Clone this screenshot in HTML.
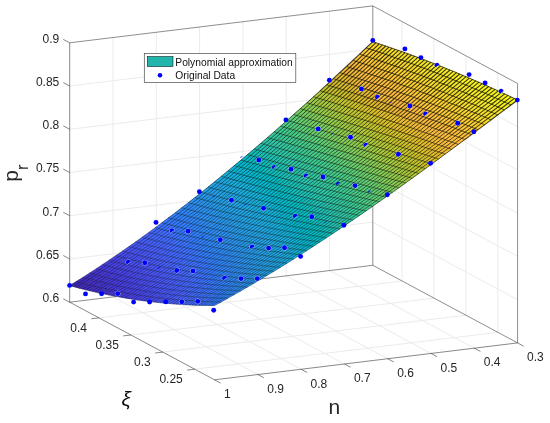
<!DOCTYPE html>
<html><head><meta charset="utf-8"><title>Polynomial approximation</title>
<style>
html,body{margin:0;padding:0;background:#fff;}
svg{display:block;}
text{font-family:"Liberation Sans",sans-serif;}
</style></head>
<body>
<svg width="550" height="423" viewBox="0 0 550 423">
<rect width="550" height="423" fill="#fff"/>
<path d="M257.8,374.5 L113,296.9 M113,296.9 L113,37.5 M301.1,369.3 L156.3,291.7 M156.3,291.7 L156.3,32.3 M344.4,364 L199.6,286.4 M199.6,286.4 L199.6,27 M387.7,358.7 L242.9,281.1 M242.9,281.1 L242.9,21.7 M431,353.4 L286.2,275.8 M286.2,275.8 L286.2,16.4 M474.3,348.2 L329.5,270.6 M329.5,270.6 L329.5,11.2 M98.9,317.9 L402,281 M402,281 L402,21.6 M130.8,335 L433.9,298.1 M433.9,298.1 L433.9,38.7 M162.8,352.1 L465.9,315.2 M465.9,315.2 L465.9,55.8 M194.7,369.2 L497.8,332.3 M497.8,332.3 L497.8,72.9 M69.7,259 L372.8,222.1 M372.8,222.1 L517.6,299.7 M69.7,215.7 L372.8,178.8 M372.8,178.8 L517.6,256.4 M69.7,172.5 L372.8,135.6 M372.8,135.6 L517.6,213.2 M69.7,129.3 L372.8,92.4 M372.8,92.4 L517.6,170 M69.7,86 L372.8,49.1 M372.8,49.1 L517.6,126.7" stroke="#ebebeb" stroke-width="1.0" fill="none"/>
<path d="M69.7,302.2 L372.8,265.3 M372.8,265.3 L517.6,342.9 M372.8,265.3 L372.8,5.9 M69.7,42.8 L372.8,5.9 M372.8,5.9 L517.6,83.5 M517.6,342.9 L517.6,83.5" stroke="#262626" stroke-width="1.0" stroke-opacity="0.52" fill="none"/>
<g stroke-width=".4" stroke-linejoin="round">
<path fill="#3f29b2" stroke="#3f29b2" d="M69.7,285.6 L76.3,281.5 85.9,284.1 79.4,288.2Z"/>
<path fill="#412cbb" stroke="#412cbb" d="M79.4,288.2 L85.9,284.1 95.6,286.5 89,290.6Z"/>
<path fill="#4230c4" stroke="#4230c4" d="M89,290.6 L95.6,286.5 105.2,288.7 98.7,292.8Z"/>
<path fill="#4433cd" stroke="#4433cd" d="M98.7,292.8 L105.2,288.7 114.9,290.7 108.3,294.8Z"/>
<path fill="#4537d6" stroke="#4537d6" d="M108.3,294.8 L114.9,290.7 124.6,292.6 118,296.7Z"/>
<path fill="#463cde" stroke="#463cde" d="M118,296.7 L124.6,292.6 134.2,294.3 127.6,298.4Z"/>
<path fill="#4742e6" stroke="#4742e6" d="M127.6,298.4 L134.2,294.3 143.9,295.8 137.3,299.9Z"/>
<path fill="#4747ec" stroke="#4747ec" d="M137.3,299.9 L143.9,295.8 153.5,297.2 146.9,301.2Z"/>
<path fill="#484ef1" stroke="#484ef1" d="M146.9,301.2 L153.5,297.2 163.2,298.4 156.6,302.3Z"/>
<path fill="#4854f5" stroke="#4854f5" d="M156.6,302.3 L163.2,298.4 172.8,299.4 166.2,303.3Z"/>
<path fill="#475bf9" stroke="#475bf9" d="M166.2,303.3 L172.8,299.4 182.5,300.3 175.9,304.1Z"/>
<path fill="#4562fc" stroke="#4562fc" d="M175.9,304.1 L182.5,300.3 192.1,300.9 185.5,304.7Z"/>
<path fill="#4269fe" stroke="#4269fe" d="M185.5,304.7 L192.1,300.9 201.8,301.4 195.2,305.2Z"/>
<path fill="#3c71ff" stroke="#3c71ff" d="M195.2,305.2 L201.8,301.4 211.4,301.8 204.8,305.4Z"/>
<path fill="#347afd" stroke="#347afd" d="M204.8,305.4 L211.4,301.8 221.1,301.9 214.5,305.5Z"/>
<path fill="#412dbd" stroke="#412dbd" d="M76.3,281.5 L82.9,277.4 92.5,279.9 85.9,284.1Z"/>
<path fill="#4330c5" stroke="#4330c5" d="M85.9,284.1 L92.5,279.9 102.2,282.3 95.6,286.5Z"/>
<path fill="#4434ce" stroke="#4434ce" d="M95.6,286.5 L102.2,282.3 111.8,284.5 105.2,288.7Z"/>
<path fill="#4537d6" stroke="#4537d6" d="M105.2,288.7 L111.8,284.5 121.5,286.6 114.9,290.7Z"/>
<path fill="#463cde" stroke="#463cde" d="M114.9,290.7 L121.5,286.6 131.1,288.5 124.6,292.6Z"/>
<path fill="#4741e5" stroke="#4741e5" d="M124.6,292.6 L131.1,288.5 140.8,290.2 134.2,294.3Z"/>
<path fill="#4747eb" stroke="#4747eb" d="M134.2,294.3 L140.8,290.2 150.5,291.8 143.9,295.8Z"/>
<path fill="#484df0" stroke="#484df0" d="M143.9,295.8 L150.5,291.8 160.1,293.2 153.5,297.2Z"/>
<path fill="#4853f4" stroke="#4853f4" d="M153.5,297.2 L160.1,293.2 169.8,294.4 163.2,298.4Z"/>
<path fill="#4759f8" stroke="#4759f8" d="M163.2,298.4 L169.8,294.4 179.4,295.5 172.8,299.4Z"/>
<path fill="#4660fb" stroke="#4660fb" d="M172.8,299.4 L179.4,295.5 189.1,296.3 182.5,300.3Z"/>
<path fill="#4367fd" stroke="#4367fd" d="M182.5,300.3 L189.1,296.3 198.7,297.1 192.1,300.9Z"/>
<path fill="#3f6eff" stroke="#3f6eff" d="M192.1,300.9 L198.7,297.1 208.4,297.6 201.8,301.4Z"/>
<path fill="#3776fe" stroke="#3776fe" d="M201.8,301.4 L208.4,297.6 218,298 211.4,301.8Z"/>
<path fill="#307ffb" stroke="#307ffb" d="M211.4,301.8 L218,298 227.7,298.3 221.1,301.9Z"/>
<path fill="#4331c7" stroke="#4331c7" d="M82.9,277.4 L89.5,273.2 99.1,275.7 92.5,279.9Z"/>
<path fill="#4434cf" stroke="#4434cf" d="M92.5,279.9 L99.1,275.7 108.8,278.1 102.2,282.3Z"/>
<path fill="#4538d7" stroke="#4538d7" d="M102.2,282.3 L108.8,278.1 118.4,280.3 111.8,284.5Z"/>
<path fill="#463cdf" stroke="#463cdf" d="M111.8,284.5 L118.4,280.3 128.1,282.4 121.5,286.6Z"/>
<path fill="#4741e5" stroke="#4741e5" d="M121.5,286.6 L128.1,282.4 137.7,284.3 131.1,288.5Z"/>
<path fill="#4746eb" stroke="#4746eb" d="M131.1,288.5 L137.7,284.3 147.4,286.1 140.8,290.2Z"/>
<path fill="#484cef" stroke="#484cef" d="M140.8,290.2 L147.4,286.1 157,287.6 150.5,291.8Z"/>
<path fill="#4852f4" stroke="#4852f4" d="M150.5,291.8 L157,287.6 166.7,289.1 160.1,293.2Z"/>
<path fill="#4758f8" stroke="#4758f8" d="M160.1,293.2 L166.7,289.1 176.3,290.3 169.8,294.4Z"/>
<path fill="#465efb" stroke="#465efb" d="M169.8,294.4 L176.3,290.3 186,291.4 179.4,295.5Z"/>
<path fill="#4465fd" stroke="#4465fd" d="M179.4,295.5 L186,291.4 195.7,292.4 189.1,296.3Z"/>
<path fill="#406cfe" stroke="#406cfe" d="M189.1,296.3 L195.7,292.4 205.3,293.2 198.7,297.1Z"/>
<path fill="#3a74fe" stroke="#3a74fe" d="M198.7,297.1 L205.3,293.2 215,293.8 208.4,297.6Z"/>
<path fill="#327cfc" stroke="#327cfc" d="M208.4,297.6 L215,293.8 224.6,294.3 218,298Z"/>
<path fill="#2e83f9" stroke="#2e83f9" d="M218,298 L224.6,294.3 234.3,294.6 227.7,298.3Z"/>
<path fill="#4435d1" stroke="#4435d1" d="M89.5,273.2 L96.1,268.9 105.7,271.4 99.1,275.7Z"/>
<path fill="#4539d9" stroke="#4539d9" d="M99.1,275.7 L105.7,271.4 115.4,273.8 108.8,278.1Z"/>
<path fill="#463ddf" stroke="#463ddf" d="M108.8,278.1 L115.4,273.8 125,276.1 118.4,280.3Z"/>
<path fill="#4741e5" stroke="#4741e5" d="M118.4,280.3 L125,276.1 134.7,278.1 128.1,282.4Z"/>
<path fill="#4746eb" stroke="#4746eb" d="M128.1,282.4 L134.7,278.1 144.3,280.1 137.7,284.3Z"/>
<path fill="#484cef" stroke="#484cef" d="M137.7,284.3 L144.3,280.1 154,281.8 147.4,286.1Z"/>
<path fill="#4851f3" stroke="#4851f3" d="M147.4,286.1 L154,281.8 163.6,283.4 157,287.6Z"/>
<path fill="#4757f7" stroke="#4757f7" d="M157,287.6 L163.6,283.4 173.3,284.9 166.7,289.1Z"/>
<path fill="#465dfa" stroke="#465dfa" d="M166.7,289.1 L173.3,284.9 182.9,286.2 176.3,290.3Z"/>
<path fill="#4563fd" stroke="#4563fd" d="M176.3,290.3 L182.9,286.2 192.6,287.4 186,291.4Z"/>
<path fill="#426afe" stroke="#426afe" d="M186,291.4 L192.6,287.4 202.2,288.4 195.7,292.4Z"/>
<path fill="#3c71ff" stroke="#3c71ff" d="M195.7,292.4 L202.2,288.4 211.9,289.2 205.3,293.2Z"/>
<path fill="#3579fd" stroke="#3579fd" d="M205.3,293.2 L211.9,289.2 221.5,289.9 215,293.8Z"/>
<path fill="#2f80fa" stroke="#2f80fa" d="M215,293.8 L221.5,289.9 231.2,290.4 224.6,294.3Z"/>
<path fill="#2d88f6" stroke="#2d88f6" d="M224.6,294.3 L231.2,290.4 240.9,290.8 234.3,294.6Z"/>
<path fill="#463adb" stroke="#463adb" d="M96.1,268.9 L102.6,264.6 112.3,267.1 105.7,271.4Z"/>
<path fill="#463ee1" stroke="#463ee1" d="M105.7,271.4 L112.3,267.1 122,269.5 115.4,273.8Z"/>
<path fill="#4742e6" stroke="#4742e6" d="M115.4,273.8 L122,269.5 131.6,271.7 125,276.1Z"/>
<path fill="#4747eb" stroke="#4747eb" d="M125,276.1 L131.6,271.7 141.3,273.8 134.7,278.1Z"/>
<path fill="#484cef" stroke="#484cef" d="M134.7,278.1 L141.3,273.8 150.9,275.7 144.3,280.1Z"/>
<path fill="#4851f3" stroke="#4851f3" d="M144.3,280.1 L150.9,275.7 160.6,277.5 154,281.8Z"/>
<path fill="#4757f7" stroke="#4757f7" d="M154,281.8 L160.6,277.5 170.2,279.2 163.6,283.4Z"/>
<path fill="#475cfa" stroke="#475cfa" d="M163.6,283.4 L170.2,279.2 179.9,280.7 173.3,284.9Z"/>
<path fill="#4562fc" stroke="#4562fc" d="M173.3,284.9 L179.9,280.7 189.5,282 182.9,286.2Z"/>
<path fill="#4369fe" stroke="#4369fe" d="M182.9,286.2 L189.5,282 199.2,283.2 192.6,287.4Z"/>
<path fill="#3e6fff" stroke="#3e6fff" d="M192.6,287.4 L199.2,283.2 208.8,284.3 202.2,288.4Z"/>
<path fill="#3777fe" stroke="#3777fe" d="M202.2,288.4 L208.8,284.3 218.5,285.2 211.9,289.2Z"/>
<path fill="#317efb" stroke="#317efb" d="M211.9,289.2 L218.5,285.2 228.1,286 221.5,289.9Z"/>
<path fill="#2e85f8" stroke="#2e85f8" d="M221.5,289.9 L228.1,286 237.8,286.6 231.2,290.4Z"/>
<path fill="#2d8cf3" stroke="#2d8cf3" d="M231.2,290.4 L237.8,286.6 247.4,287 240.9,290.8Z"/>
<path fill="#473fe2" stroke="#473fe2" d="M102.6,264.6 L109.2,260.2 118.9,262.7 112.3,267.1Z"/>
<path fill="#4743e7" stroke="#4743e7" d="M112.3,267.1 L118.9,262.7 128.5,265.1 122,269.5Z"/>
<path fill="#4848ec" stroke="#4848ec" d="M122,269.5 L128.5,265.1 138.2,267.3 131.6,271.7Z"/>
<path fill="#484df0" stroke="#484df0" d="M131.6,271.7 L138.2,267.3 147.8,269.4 141.3,273.8Z"/>
<path fill="#4852f4" stroke="#4852f4" d="M141.3,273.8 L147.8,269.4 157.5,271.4 150.9,275.7Z"/>
<path fill="#4757f7" stroke="#4757f7" d="M150.9,275.7 L157.5,271.4 167.2,273.2 160.6,277.5Z"/>
<path fill="#475cfa" stroke="#475cfa" d="M160.6,277.5 L167.2,273.2 176.8,274.9 170.2,279.2Z"/>
<path fill="#4562fc" stroke="#4562fc" d="M170.2,279.2 L176.8,274.9 186.5,276.4 179.9,280.7Z"/>
<path fill="#4368fe" stroke="#4368fe" d="M179.9,280.7 L186.5,276.4 196.1,277.8 189.5,282Z"/>
<path fill="#3f6eff" stroke="#3f6eff" d="M189.5,282 L196.1,277.8 205.8,279 199.2,283.2Z"/>
<path fill="#3875fe" stroke="#3875fe" d="M199.2,283.2 L205.8,279 215.4,280.2 208.8,284.3Z"/>
<path fill="#327cfc" stroke="#327cfc" d="M208.8,284.3 L215.4,280.2 225.1,281.1 218.5,285.2Z"/>
<path fill="#2e83f9" stroke="#2e83f9" d="M218.5,285.2 L225.1,281.1 234.7,281.9 228.1,286Z"/>
<path fill="#2d8af5" stroke="#2d8af5" d="M228.1,286 L234.7,281.9 244.4,282.6 237.8,286.6Z"/>
<path fill="#2b91ef" stroke="#2b91ef" d="M237.8,286.6 L244.4,282.6 254,283.2 247.4,287Z"/>
<path fill="#4745e9" stroke="#4745e9" d="M109.2,260.2 L115.8,255.7 125.5,258.2 118.9,262.7Z"/>
<path fill="#4849ed" stroke="#4849ed" d="M118.9,262.7 L125.5,258.2 135.1,260.6 128.5,265.1Z"/>
<path fill="#484ef1" stroke="#484ef1" d="M128.5,265.1 L135.1,260.6 144.8,262.9 138.2,267.3Z"/>
<path fill="#4852f4" stroke="#4852f4" d="M138.2,267.3 L144.8,262.9 154.4,265 147.8,269.4Z"/>
<path fill="#4757f7" stroke="#4757f7" d="M147.8,269.4 L154.4,265 164.1,267 157.5,271.4Z"/>
<path fill="#475cfa" stroke="#475cfa" d="M157.5,271.4 L164.1,267 173.7,268.8 167.2,273.2Z"/>
<path fill="#4562fc" stroke="#4562fc" d="M167.2,273.2 L173.7,268.8 183.4,270.5 176.8,274.9Z"/>
<path fill="#4368fd" stroke="#4368fd" d="M176.8,274.9 L183.4,270.5 193.1,272.1 186.5,276.4Z"/>
<path fill="#3f6efe" stroke="#3f6efe" d="M186.5,276.4 L193.1,272.1 202.7,273.5 196.1,277.8Z"/>
<path fill="#3974fe" stroke="#3974fe" d="M196.1,277.8 L202.7,273.5 212.4,274.8 205.8,279Z"/>
<path fill="#337bfc" stroke="#337bfc" d="M205.8,279 L212.4,274.8 222,276 215.4,280.2Z"/>
<path fill="#2f82fa" stroke="#2f82fa" d="M215.4,280.2 L222,276 231.7,277 225.1,281.1Z"/>
<path fill="#2d88f6" stroke="#2d88f6" d="M225.1,281.1 L231.7,277 241.3,277.9 234.7,281.9Z"/>
<path fill="#2c8ff1" stroke="#2c8ff1" d="M234.7,281.9 L241.3,277.9 251,278.6 244.4,282.6Z"/>
<path fill="#2895ec" stroke="#2895ec" d="M244.4,282.6 L251,278.6 260.6,279.3 254,283.2Z"/>
<path fill="#484bee" stroke="#484bee" d="M115.8,255.7 L122.4,251.2 132.1,253.7 125.5,258.2Z"/>
<path fill="#484ff2" stroke="#484ff2" d="M125.5,258.2 L132.1,253.7 141.7,256.1 135.1,260.6Z"/>
<path fill="#4853f5" stroke="#4853f5" d="M135.1,260.6 L141.7,256.1 151.4,258.3 144.8,262.9Z"/>
<path fill="#4758f8" stroke="#4758f8" d="M144.8,262.9 L151.4,258.3 161,260.5 154.4,265Z"/>
<path fill="#465dfa" stroke="#465dfa" d="M154.4,265 L161,260.5 170.7,262.5 164.1,267Z"/>
<path fill="#4562fc" stroke="#4562fc" d="M164.1,267 L170.7,262.5 180.3,264.3 173.7,268.8Z"/>
<path fill="#4368fd" stroke="#4368fd" d="M173.7,268.8 L180.3,264.3 190,266.1 183.4,270.5Z"/>
<path fill="#3f6dfe" stroke="#3f6dfe" d="M183.4,270.5 L190,266.1 199.6,267.7 193.1,272.1Z"/>
<path fill="#3a74fe" stroke="#3a74fe" d="M193.1,272.1 L199.6,267.7 209.3,269.2 202.7,273.5Z"/>
<path fill="#337afd" stroke="#337afd" d="M202.7,273.5 L209.3,269.2 218.9,270.5 212.4,274.8Z"/>
<path fill="#2f81fa" stroke="#2f81fa" d="M212.4,274.8 L218.9,270.5 228.6,271.7 222,276Z"/>
<path fill="#2e87f7" stroke="#2e87f7" d="M222,276 L228.6,271.7 238.3,272.8 231.7,277Z"/>
<path fill="#2d8df2" stroke="#2d8df2" d="M231.7,277 L238.3,272.8 247.9,273.8 241.3,277.9Z"/>
<path fill="#2a93ed" stroke="#2a93ed" d="M241.3,277.9 L247.9,273.8 257.6,274.6 251,278.6Z"/>
<path fill="#2699e9" stroke="#2699e9" d="M251,278.6 L257.6,274.6 267.2,275.3 260.6,279.3Z"/>
<path fill="#4851f3" stroke="#4851f3" d="M122.4,251.2 L129,246.6 138.7,249.1 132.1,253.7Z"/>
<path fill="#4755f6" stroke="#4755f6" d="M132.1,253.7 L138.7,249.1 148.3,251.5 141.7,256.1Z"/>
<path fill="#4759f8" stroke="#4759f8" d="M141.7,256.1 L148.3,251.5 158,253.8 151.4,258.3Z"/>
<path fill="#465efb" stroke="#465efb" d="M151.4,258.3 L158,253.8 167.6,255.9 161,260.5Z"/>
<path fill="#4563fc" stroke="#4563fc" d="M161,260.5 L167.6,255.9 177.3,257.9 170.7,262.5Z"/>
<path fill="#4368fe" stroke="#4368fe" d="M170.7,262.5 L177.3,257.9 186.9,259.8 180.3,264.3Z"/>
<path fill="#3f6efe" stroke="#3f6efe" d="M180.3,264.3 L186.9,259.8 196.6,261.6 190,266.1Z"/>
<path fill="#3a74fe" stroke="#3a74fe" d="M190,266.1 L196.6,261.6 206.2,263.2 199.6,267.7Z"/>
<path fill="#347afd" stroke="#347afd" d="M199.6,267.7 L206.2,263.2 215.9,264.8 209.3,269.2Z"/>
<path fill="#3080fa" stroke="#3080fa" d="M209.3,269.2 L215.9,264.8 225.5,266.2 218.9,270.5Z"/>
<path fill="#2e86f7" stroke="#2e86f7" d="M218.9,270.5 L225.5,266.2 235.2,267.4 228.6,271.7Z"/>
<path fill="#2d8cf3" stroke="#2d8cf3" d="M228.6,271.7 L235.2,267.4 244.8,268.6 238.3,272.8Z"/>
<path fill="#2b92ee" stroke="#2b92ee" d="M238.3,272.8 L244.8,268.6 254.5,269.6 247.9,273.8Z"/>
<path fill="#2798ea" stroke="#2798ea" d="M247.9,273.8 L254.5,269.6 264.1,270.5 257.6,274.6Z"/>
<path fill="#249ee6" stroke="#249ee6" d="M257.6,274.6 L264.1,270.5 273.8,271.3 267.2,275.3Z"/>
<path fill="#4756f7" stroke="#4756f7" d="M129,246.6 L135.6,242 145.2,244.5 138.7,249.1Z"/>
<path fill="#475bf9" stroke="#475bf9" d="M138.7,249.1 L145.2,244.5 154.9,246.9 148.3,251.5Z"/>
<path fill="#465ffb" stroke="#465ffb" d="M148.3,251.5 L154.9,246.9 164.6,249.1 158,253.8Z"/>
<path fill="#4564fd" stroke="#4564fd" d="M158,253.8 L164.6,249.1 174.2,251.3 167.6,255.9Z"/>
<path fill="#4269fe" stroke="#4269fe" d="M167.6,255.9 L174.2,251.3 183.9,253.3 177.3,257.9Z"/>
<path fill="#3f6eff" stroke="#3f6eff" d="M177.3,257.9 L183.9,253.3 193.5,255.2 186.9,259.8Z"/>
<path fill="#3974fe" stroke="#3974fe" d="M186.9,259.8 L193.5,255.2 203.2,257.1 196.6,261.6Z"/>
<path fill="#347afd" stroke="#347afd" d="M196.6,261.6 L203.2,257.1 212.8,258.7 206.2,263.2Z"/>
<path fill="#3080fa" stroke="#3080fa" d="M206.2,263.2 L212.8,258.7 222.5,260.3 215.9,264.8Z"/>
<path fill="#2e86f8" stroke="#2e86f8" d="M215.9,264.8 L222.5,260.3 232.1,261.8 225.5,266.2Z"/>
<path fill="#2d8bf3" stroke="#2d8bf3" d="M225.5,266.2 L232.1,261.8 241.8,263.1 235.2,267.4Z"/>
<path fill="#2b91ef" stroke="#2b91ef" d="M235.2,267.4 L241.8,263.1 251.4,264.3 244.8,268.6Z"/>
<path fill="#2797eb" stroke="#2797eb" d="M244.8,268.6 L251.4,264.3 261.1,265.4 254.5,269.6Z"/>
<path fill="#259ce7" stroke="#259ce7" d="M254.5,269.6 L261.1,265.4 270.7,266.4 264.1,270.5Z"/>
<path fill="#22a2e4" stroke="#22a2e4" d="M264.1,270.5 L270.7,266.4 280.4,267.3 273.8,271.3Z"/>
<path fill="#475dfa" stroke="#475dfa" d="M135.6,242 L142.2,237.2 151.8,239.8 145.2,244.5Z"/>
<path fill="#4561fc" stroke="#4561fc" d="M145.2,244.5 L151.8,239.8 161.5,242.2 154.9,246.9Z"/>
<path fill="#4465fd" stroke="#4465fd" d="M154.9,246.9 L161.5,242.2 171.1,244.4 164.6,249.1Z"/>
<path fill="#426afe" stroke="#426afe" d="M164.6,249.1 L171.1,244.4 180.8,246.6 174.2,251.3Z"/>
<path fill="#3e6fff" stroke="#3e6fff" d="M174.2,251.3 L180.8,246.6 190.4,248.7 183.9,253.3Z"/>
<path fill="#3975fe" stroke="#3975fe" d="M183.9,253.3 L190.4,248.7 200.1,250.6 193.5,255.2Z"/>
<path fill="#337bfd" stroke="#337bfd" d="M193.5,255.2 L200.1,250.6 209.8,252.5 203.2,257.1Z"/>
<path fill="#2f80fa" stroke="#2f80fa" d="M203.2,257.1 L209.8,252.5 219.4,254.2 212.8,258.7Z"/>
<path fill="#2e86f8" stroke="#2e86f8" d="M212.8,258.7 L219.4,254.2 229.1,255.8 222.5,260.3Z"/>
<path fill="#2d8bf4" stroke="#2d8bf4" d="M222.5,260.3 L229.1,255.8 238.7,257.3 232.1,261.8Z"/>
<path fill="#2b91ef" stroke="#2b91ef" d="M232.1,261.8 L238.7,257.3 248.4,258.7 241.8,263.1Z"/>
<path fill="#2896eb" stroke="#2896eb" d="M241.8,263.1 L248.4,258.7 258,260 251.4,264.3Z"/>
<path fill="#259be7" stroke="#259be7" d="M251.4,264.3 L258,260 267.7,261.2 261.1,265.4Z"/>
<path fill="#23a1e4" stroke="#23a1e4" d="M261.1,265.4 L267.7,261.2 277.3,262.2 270.7,266.4Z"/>
<path fill="#1fa6e1" stroke="#1fa6e1" d="M270.7,266.4 L277.3,262.2 287,263.2 280.4,267.3Z"/>
<path fill="#4563fc" stroke="#4563fc" d="M142.2,237.2 L148.8,232.5 158.4,235 151.8,239.8Z"/>
<path fill="#4367fd" stroke="#4367fd" d="M151.8,239.8 L158.4,235 168.1,237.4 161.5,242.2Z"/>
<path fill="#406cfe" stroke="#406cfe" d="M161.5,242.2 L168.1,237.4 177.7,239.7 171.1,244.4Z"/>
<path fill="#3d71ff" stroke="#3d71ff" d="M171.1,244.4 L177.7,239.7 187.4,241.9 180.8,246.6Z"/>
<path fill="#3776fe" stroke="#3776fe" d="M180.8,246.6 L187.4,241.9 197,244 190.4,248.7Z"/>
<path fill="#327cfc" stroke="#327cfc" d="M190.4,248.7 L197,244 206.7,245.9 200.1,250.6Z"/>
<path fill="#2f81fa" stroke="#2f81fa" d="M200.1,250.6 L206.7,245.9 216.3,247.8 209.8,252.5Z"/>
<path fill="#2e86f7" stroke="#2e86f7" d="M209.8,252.5 L216.3,247.8 226,249.6 219.4,254.2Z"/>
<path fill="#2d8bf3" stroke="#2d8bf3" d="M219.4,254.2 L226,249.6 235.6,251.3 229.1,255.8Z"/>
<path fill="#2b91ef" stroke="#2b91ef" d="M229.1,255.8 L235.6,251.3 245.3,252.8 238.7,257.3Z"/>
<path fill="#2896ec" stroke="#2896ec" d="M238.7,257.3 L245.3,252.8 255,254.3 248.4,258.7Z"/>
<path fill="#259be8" stroke="#259be8" d="M248.4,258.7 L255,254.3 264.6,255.6 258,260Z"/>
<path fill="#23a0e5" stroke="#23a0e5" d="M258,260 L264.6,255.6 274.3,256.9 267.7,261.2Z"/>
<path fill="#1fa5e2" stroke="#1fa5e2" d="M267.7,261.2 L274.3,256.9 283.9,258 277.3,262.2Z"/>
<path fill="#1baade" stroke="#1baade" d="M277.3,262.2 L283.9,258 293.6,259 287,263.2Z"/>
<path fill="#4269fe" stroke="#4269fe" d="M148.8,232.5 L155.4,227.7 165,230.2 158.4,235Z"/>
<path fill="#3f6eff" stroke="#3f6eff" d="M158.4,235 L165,230.2 174.7,232.6 168.1,237.4Z"/>
<path fill="#3b73fe" stroke="#3b73fe" d="M168.1,237.4 L174.7,232.6 184.3,234.9 177.7,239.7Z"/>
<path fill="#3678fe" stroke="#3678fe" d="M177.7,239.7 L184.3,234.9 194,237.1 187.4,241.9Z"/>
<path fill="#317dfc" stroke="#317dfc" d="M187.4,241.9 L194,237.1 203.6,239.2 197,244Z"/>
<path fill="#2f82fa" stroke="#2f82fa" d="M197,244 L203.6,239.2 213.3,241.2 206.7,245.9Z"/>
<path fill="#2e87f7" stroke="#2e87f7" d="M206.7,245.9 L213.3,241.2 222.9,243.1 216.3,247.8Z"/>
<path fill="#2d8cf3" stroke="#2d8cf3" d="M216.3,247.8 L222.9,243.1 232.6,244.9 226,249.6Z"/>
<path fill="#2b91ef" stroke="#2b91ef" d="M226,249.6 L232.6,244.9 242.2,246.7 235.6,251.3Z"/>
<path fill="#2896ec" stroke="#2896ec" d="M235.6,251.3 L242.2,246.7 251.9,248.3 245.3,252.8Z"/>
<path fill="#259be8" stroke="#259be8" d="M245.3,252.8 L251.9,248.3 261.5,249.8 255,254.3Z"/>
<path fill="#23a0e5" stroke="#23a0e5" d="M255,254.3 L261.5,249.8 271.2,251.2 264.6,255.6Z"/>
<path fill="#20a5e3" stroke="#20a5e3" d="M264.6,255.6 L271.2,251.2 280.9,252.5 274.3,256.9Z"/>
<path fill="#1caadf" stroke="#1caadf" d="M274.3,256.9 L280.9,252.5 290.5,253.7 283.9,258Z"/>
<path fill="#17aeda" stroke="#17aeda" d="M283.9,258 L290.5,253.7 300.2,254.8 293.6,259Z"/>
<path fill="#3d70ff" stroke="#3d70ff" d="M155.4,227.7 L161.9,222.8 171.6,225.3 165,230.2Z"/>
<path fill="#3975fe" stroke="#3975fe" d="M165,230.2 L171.6,225.3 181.3,227.7 174.7,232.6Z"/>
<path fill="#347afd" stroke="#347afd" d="M174.7,232.6 L181.3,227.7 190.9,230 184.3,234.9Z"/>
<path fill="#307ffb" stroke="#307ffb" d="M184.3,234.9 L190.9,230 200.6,232.3 194,237.1Z"/>
<path fill="#2e83f9" stroke="#2e83f9" d="M194,237.1 L200.6,232.3 210.2,234.4 203.6,239.2Z"/>
<path fill="#2d88f6" stroke="#2d88f6" d="M203.6,239.2 L210.2,234.4 219.9,236.4 213.3,241.2Z"/>
<path fill="#2d8df2" stroke="#2d8df2" d="M213.3,241.2 L219.9,236.4 229.5,238.4 222.9,243.1Z"/>
<path fill="#2b91ef" stroke="#2b91ef" d="M222.9,243.1 L229.5,238.4 239.2,240.2 232.6,244.9Z"/>
<path fill="#2796eb" stroke="#2796eb" d="M232.6,244.9 L239.2,240.2 248.8,242 242.2,246.7Z"/>
<path fill="#259be8" stroke="#259be8" d="M242.2,246.7 L248.8,242 258.5,243.7 251.9,248.3Z"/>
<path fill="#23a0e5" stroke="#23a0e5" d="M251.9,248.3 L258.5,243.7 268.1,245.2 261.5,249.8Z"/>
<path fill="#20a4e3" stroke="#20a4e3" d="M261.5,249.8 L268.1,245.2 277.8,246.7 271.2,251.2Z"/>
<path fill="#1ca9df" stroke="#1ca9df" d="M271.2,251.2 L277.8,246.7 287.4,248.1 280.9,252.5Z"/>
<path fill="#18aedb" stroke="#18aedb" d="M280.9,252.5 L287.4,248.1 297.1,249.4 290.5,253.7Z"/>
<path fill="#10b2d5" stroke="#10b2d5" d="M290.5,253.7 L297.1,249.4 306.7,250.6 300.2,254.8Z"/>
<path fill="#3677fe" stroke="#3677fe" d="M161.9,222.8 L168.5,217.8 178.2,220.4 171.6,225.3Z"/>
<path fill="#327cfc" stroke="#327cfc" d="M171.6,225.3 L178.2,220.4 187.8,222.8 181.3,227.7Z"/>
<path fill="#2f80fa" stroke="#2f80fa" d="M181.3,227.7 L187.8,222.8 197.5,225.1 190.9,230Z"/>
<path fill="#2e85f8" stroke="#2e85f8" d="M190.9,230 L197.5,225.1 207.2,227.4 200.6,232.3Z"/>
<path fill="#2d89f5" stroke="#2d89f5" d="M200.6,232.3 L207.2,227.4 216.8,229.5 210.2,234.4Z"/>
<path fill="#2c8ef1" stroke="#2c8ef1" d="M210.2,234.4 L216.8,229.5 226.5,231.6 219.9,236.4Z"/>
<path fill="#2a92ee" stroke="#2a92ee" d="M219.9,236.4 L226.5,231.6 236.1,233.6 229.5,238.4Z"/>
<path fill="#2797eb" stroke="#2797eb" d="M229.5,238.4 L236.1,233.6 245.8,235.5 239.2,240.2Z"/>
<path fill="#259ce7" stroke="#259ce7" d="M239.2,240.2 L245.8,235.5 255.4,237.3 248.8,242Z"/>
<path fill="#23a0e5" stroke="#23a0e5" d="M248.8,242 L255.4,237.3 265.1,239 258.5,243.7Z"/>
<path fill="#20a5e3" stroke="#20a5e3" d="M258.5,243.7 L265.1,239 274.7,240.7 268.1,245.2Z"/>
<path fill="#1ca9e0" stroke="#1ca9e0" d="M268.1,245.2 L274.7,240.7 284.4,242.2 277.8,246.7Z"/>
<path fill="#18addb" stroke="#18addb" d="M277.8,246.7 L284.4,242.2 294,243.7 287.4,248.1Z"/>
<path fill="#11b1d6" stroke="#11b1d6" d="M287.4,248.1 L294,243.7 303.7,245.1 297.1,249.4Z"/>
<path fill="#07b5cf" stroke="#07b5cf" d="M297.1,249.4 L303.7,245.1 313.3,246.4 306.7,250.6Z"/>
<path fill="#317efb" stroke="#317efb" d="M168.5,217.8 L175.1,212.9 184.8,215.4 178.2,220.4Z"/>
<path fill="#2f83f9" stroke="#2f83f9" d="M178.2,220.4 L184.8,215.4 194.4,217.8 187.8,222.8Z"/>
<path fill="#2e87f7" stroke="#2e87f7" d="M187.8,222.8 L194.4,217.8 204.1,220.2 197.5,225.1Z"/>
<path fill="#2d8bf4" stroke="#2d8bf4" d="M197.5,225.1 L204.1,220.2 213.7,222.4 207.2,227.4Z"/>
<path fill="#2c8ff0" stroke="#2c8ff0" d="M207.2,227.4 L213.7,222.4 223.4,224.6 216.8,229.5Z"/>
<path fill="#2994ed" stroke="#2994ed" d="M216.8,229.5 L223.4,224.6 233,226.7 226.5,231.6Z"/>
<path fill="#2798ea" stroke="#2798ea" d="M226.5,231.6 L233,226.7 242.7,228.8 236.1,233.6Z"/>
<path fill="#259ce7" stroke="#259ce7" d="M236.1,233.6 L242.7,228.8 252.4,230.7 245.8,235.5Z"/>
<path fill="#23a1e4" stroke="#23a1e4" d="M245.8,235.5 L252.4,230.7 262,232.6 255.4,237.3Z"/>
<path fill="#20a5e2" stroke="#20a5e2" d="M255.4,237.3 L262,232.6 271.7,234.3 265.1,239Z"/>
<path fill="#1ca9df" stroke="#1ca9df" d="M265.1,239 L271.7,234.3 281.3,236 274.7,240.7Z"/>
<path fill="#18addb" stroke="#18addb" d="M274.7,240.7 L281.3,236 291,237.7 284.4,242.2Z"/>
<path fill="#11b1d6" stroke="#11b1d6" d="M284.4,242.2 L291,237.7 300.6,239.2 294,243.7Z"/>
<path fill="#07b5d0" stroke="#07b5d0" d="M294,243.7 L300.6,239.2 310.3,240.7 303.7,245.1Z"/>
<path fill="#01b8c9" stroke="#01b8c9" d="M303.7,245.1 L310.3,240.7 319.9,242 313.3,246.4Z"/>
<path fill="#2e85f8" stroke="#2e85f8" d="M175.1,212.9 L181.7,207.8 191.4,210.3 184.8,215.4Z"/>
<path fill="#2d89f5" stroke="#2d89f5" d="M184.8,215.4 L191.4,210.3 201,212.8 194.4,217.8Z"/>
<path fill="#2d8df2" stroke="#2d8df2" d="M194.4,217.8 L201,212.8 210.7,215.1 204.1,220.2Z"/>
<path fill="#2b91ef" stroke="#2b91ef" d="M204.1,220.2 L210.7,215.1 220.3,217.4 213.7,222.4Z"/>
<path fill="#2895ec" stroke="#2895ec" d="M213.7,222.4 L220.3,217.4 230,219.7 223.4,224.6Z"/>
<path fill="#2699e9" stroke="#2699e9" d="M223.4,224.6 L230,219.7 239.6,221.8 233,226.7Z"/>
<path fill="#249ee6" stroke="#249ee6" d="M233,226.7 L239.6,221.8 249.3,223.9 242.7,228.8Z"/>
<path fill="#22a2e4" stroke="#22a2e4" d="M242.7,228.8 L249.3,223.9 258.9,225.9 252.4,230.7Z"/>
<path fill="#1fa6e2" stroke="#1fa6e2" d="M252.4,230.7 L258.9,225.9 268.6,227.8 262,232.6Z"/>
<path fill="#1caadf" stroke="#1caadf" d="M262,232.6 L268.6,227.8 278.2,229.6 271.7,234.3Z"/>
<path fill="#17aedb" stroke="#17aedb" d="M271.7,234.3 L278.2,229.6 287.9,231.4 281.3,236Z"/>
<path fill="#11b1d6" stroke="#11b1d6" d="M281.3,236 L287.9,231.4 297.6,233.1 291,237.7Z"/>
<path fill="#07b5d0" stroke="#07b5d0" d="M291,237.7 L297.6,233.1 307.2,234.7 300.6,239.2Z"/>
<path fill="#01b8c9" stroke="#01b8c9" d="M300.6,239.2 L307.2,234.7 316.9,236.2 310.3,240.7Z"/>
<path fill="#03bbc3" stroke="#03bbc3" d="M310.3,240.7 L316.9,236.2 326.5,237.7 319.9,242Z"/>
<path fill="#2d8bf3" stroke="#2d8bf3" d="M181.7,207.8 L188.3,202.7 198,205.2 191.4,210.3Z"/>
<path fill="#2c8ff0" stroke="#2c8ff0" d="M191.4,210.3 L198,205.2 207.6,207.7 201,212.8Z"/>
<path fill="#2a93ed" stroke="#2a93ed" d="M201,212.8 L207.6,207.7 217.3,210.1 210.7,215.1Z"/>
<path fill="#2797eb" stroke="#2797eb" d="M210.7,215.1 L217.3,210.1 226.9,212.4 220.3,217.4Z"/>
<path fill="#259be8" stroke="#259be8" d="M220.3,217.4 L226.9,212.4 236.6,214.6 230,219.7Z"/>
<path fill="#249fe5" stroke="#249fe5" d="M230,219.7 L236.6,214.6 246.2,216.8 239.6,221.8Z"/>
<path fill="#21a3e3" stroke="#21a3e3" d="M239.6,221.8 L246.2,216.8 255.9,218.9 249.3,223.9Z"/>
<path fill="#1ea7e1" stroke="#1ea7e1" d="M249.3,223.9 L255.9,218.9 265.5,221 258.9,225.9Z"/>
<path fill="#1babde" stroke="#1babde" d="M258.9,225.9 L265.5,221 275.2,222.9 268.6,227.8Z"/>
<path fill="#16aeda" stroke="#16aeda" d="M268.6,227.8 L275.2,222.9 284.8,224.8 278.2,229.6Z"/>
<path fill="#0fb2d5" stroke="#0fb2d5" d="M278.2,229.6 L284.8,224.8 294.5,226.7 287.9,231.4Z"/>
<path fill="#07b5cf" stroke="#07b5cf" d="M287.9,231.4 L294.5,226.7 304.1,228.4 297.6,233.1Z"/>
<path fill="#01b8c9" stroke="#01b8c9" d="M297.6,233.1 L304.1,228.4 313.8,230.1 307.2,234.7Z"/>
<path fill="#03bbc3" stroke="#03bbc3" d="M307.2,234.7 L313.8,230.1 323.5,231.8 316.9,236.2Z"/>
<path fill="#0dbdbc" stroke="#0dbdbc" d="M316.9,236.2 L323.5,231.8 333.1,233.3 326.5,237.7Z"/>
<path fill="#2b92ef" stroke="#2b92ef" d="M188.3,202.7 L194.9,197.6 204.5,200.1 198,205.2Z"/>
<path fill="#2895ec" stroke="#2895ec" d="M198,205.2 L204.5,200.1 214.2,202.6 207.6,207.7Z"/>
<path fill="#2699e9" stroke="#2699e9" d="M207.6,207.7 L214.2,202.6 223.9,205 217.3,210.1Z"/>
<path fill="#259de7" stroke="#259de7" d="M217.3,210.1 L223.9,205 233.5,207.3 226.9,212.4Z"/>
<path fill="#23a1e5" stroke="#23a1e5" d="M226.9,212.4 L233.5,207.3 243.2,209.6 236.6,214.6Z"/>
<path fill="#20a4e3" stroke="#20a4e3" d="M236.6,214.6 L243.2,209.6 252.8,211.8 246.2,216.8Z"/>
<path fill="#1da8e0" stroke="#1da8e0" d="M246.2,216.8 L252.8,211.8 262.5,214 255.9,218.9Z"/>
<path fill="#1aacdd" stroke="#1aacdd" d="M255.9,218.9 L262.5,214 272.1,216 265.5,221Z"/>
<path fill="#15afd9" stroke="#15afd9" d="M265.5,221 L272.1,216 281.8,218.1 275.2,222.9Z"/>
<path fill="#0eb3d4" stroke="#0eb3d4" d="M275.2,222.9 L281.8,218.1 291.4,220 284.8,224.8Z"/>
<path fill="#06b6ce" stroke="#06b6ce" d="M284.8,224.8 L291.4,220 301.1,221.9 294.5,226.7Z"/>
<path fill="#01b8c8" stroke="#01b8c8" d="M294.5,226.7 L301.1,221.9 310.7,223.8 304.1,228.4Z"/>
<path fill="#03bbc2" stroke="#03bbc2" d="M304.1,228.4 L310.7,223.8 320.4,225.5 313.8,230.1Z"/>
<path fill="#0dbdbb" stroke="#0dbdbb" d="M313.8,230.1 L320.4,225.5 330,227.2 323.5,231.8Z"/>
<path fill="#1ac0b5" stroke="#1ac0b5" d="M323.5,231.8 L330,227.2 339.7,228.9 333.1,233.3Z"/>
<path fill="#2798ea" stroke="#2798ea" d="M194.9,197.6 L201.5,192.4 211.1,194.9 204.5,200.1Z"/>
<path fill="#259be8" stroke="#259be8" d="M204.5,200.1 L211.1,194.9 220.8,197.4 214.2,202.6Z"/>
<path fill="#249fe6" stroke="#249fe6" d="M214.2,202.6 L220.8,197.4 230.4,199.8 223.9,205Z"/>
<path fill="#21a2e4" stroke="#21a2e4" d="M223.9,205 L230.4,199.8 240.1,202.2 233.5,207.3Z"/>
<path fill="#1fa6e2" stroke="#1fa6e2" d="M233.5,207.3 L240.1,202.2 249.7,204.5 243.2,209.6Z"/>
<path fill="#1caadf" stroke="#1caadf" d="M243.2,209.6 L249.7,204.5 259.4,206.7 252.8,211.8Z"/>
<path fill="#18addb" stroke="#18addb" d="M252.8,211.8 L259.4,206.7 269.1,208.9 262.5,214Z"/>
<path fill="#13b0d7" stroke="#13b0d7" d="M262.5,214 L269.1,208.9 278.7,211.1 272.1,216Z"/>
<path fill="#0bb3d2" stroke="#0bb3d2" d="M272.1,216 L278.7,211.1 288.4,213.1 281.8,218.1Z"/>
<path fill="#04b6cd" stroke="#04b6cd" d="M281.8,218.1 L288.4,213.1 298,215.2 291.4,220Z"/>
<path fill="#01b9c7" stroke="#01b9c7" d="M291.4,220 L298,215.2 307.7,217.1 301.1,221.9Z"/>
<path fill="#05bbc1" stroke="#05bbc1" d="M301.1,221.9 L307.7,217.1 317.3,219 310.7,223.8Z"/>
<path fill="#0fbebb" stroke="#0fbebb" d="M310.7,223.8 L317.3,219 327,220.9 320.4,225.5Z"/>
<path fill="#1bc0b4" stroke="#1bc0b4" d="M320.4,225.5 L327,220.9 336.6,222.7 330,227.2Z"/>
<path fill="#25c2ad" stroke="#25c2ad" d="M330,227.2 L336.6,222.7 346.3,224.4 339.7,228.9Z"/>
<path fill="#249ee6" stroke="#249ee6" d="M201.5,192.4 L208.1,187.1 217.7,189.6 211.1,194.9Z"/>
<path fill="#22a1e4" stroke="#22a1e4" d="M211.1,194.9 L217.7,189.6 227.4,192.1 220.8,197.4Z"/>
<path fill="#20a5e3" stroke="#20a5e3" d="M220.8,197.4 L227.4,192.1 237,194.6 230.4,199.8Z"/>
<path fill="#1da8e0" stroke="#1da8e0" d="M230.4,199.8 L237,194.6 246.7,197 240.1,202.2Z"/>
<path fill="#1aabdd" stroke="#1aabdd" d="M240.1,202.2 L246.7,197 256.3,199.3 249.7,204.5Z"/>
<path fill="#16afda" stroke="#16afda" d="M249.7,204.5 L256.3,199.3 266,201.6 259.4,206.7Z"/>
<path fill="#10b2d5" stroke="#10b2d5" d="M259.4,206.7 L266,201.6 275.6,203.9 269.1,208.9Z"/>
<path fill="#08b4d0" stroke="#08b4d0" d="M269.1,208.9 L275.6,203.9 285.3,206.1 278.7,211.1Z"/>
<path fill="#02b7cb" stroke="#02b7cb" d="M278.7,211.1 L285.3,206.1 295,208.2 288.4,213.1Z"/>
<path fill="#01bac5" stroke="#01bac5" d="M288.4,213.1 L295,208.2 304.6,210.3 298,215.2Z"/>
<path fill="#07bcc0" stroke="#07bcc0" d="M298,215.2 L304.6,210.3 314.3,212.3 307.7,217.1Z"/>
<path fill="#11beb9" stroke="#11beb9" d="M307.7,217.1 L314.3,212.3 323.9,214.3 317.3,219Z"/>
<path fill="#1cc0b3" stroke="#1cc0b3" d="M317.3,219 L323.9,214.3 333.6,216.2 327,220.9Z"/>
<path fill="#26c2ad" stroke="#26c2ad" d="M327,220.9 L333.6,216.2 343.2,218.1 336.6,222.7Z"/>
<path fill="#2dc4a6" stroke="#2dc4a6" d="M336.6,222.7 L343.2,218.1 352.9,219.9 346.3,224.4Z"/>
<path fill="#21a3e3" stroke="#21a3e3" d="M208.1,187.1 L214.7,181.8 224.3,184.4 217.7,189.6Z"/>
<path fill="#1ea7e1" stroke="#1ea7e1" d="M217.7,189.6 L224.3,184.4 234,186.9 227.4,192.1Z"/>
<path fill="#1caadf" stroke="#1caadf" d="M227.4,192.1 L234,186.9 243.6,189.3 237,194.6Z"/>
<path fill="#18addb" stroke="#18addb" d="M237,194.6 L243.6,189.3 253.3,191.8 246.7,197Z"/>
<path fill="#13b0d7" stroke="#13b0d7" d="M246.7,197 L253.3,191.8 262.9,194.1 256.3,199.3Z"/>
<path fill="#0cb3d3" stroke="#0cb3d3" d="M256.3,199.3 L262.9,194.1 272.6,196.5 266,201.6Z"/>
<path fill="#05b6ce" stroke="#05b6ce" d="M266,201.6 L272.6,196.5 282.2,198.8 275.6,203.9Z"/>
<path fill="#01b8c9" stroke="#01b8c9" d="M275.6,203.9 L282.2,198.8 291.9,201 285.3,206.1Z"/>
<path fill="#02bac3" stroke="#02bac3" d="M285.3,206.1 L291.9,201 301.5,203.2 295,208.2Z"/>
<path fill="#09bdbe" stroke="#09bdbe" d="M295,208.2 L301.5,203.2 311.2,205.3 304.6,210.3Z"/>
<path fill="#14bfb8" stroke="#14bfb8" d="M304.6,210.3 L311.2,205.3 320.8,207.4 314.3,212.3Z"/>
<path fill="#1fc0b2" stroke="#1fc0b2" d="M314.3,212.3 L320.8,207.4 330.5,209.5 323.9,214.3Z"/>
<path fill="#27c2ab" stroke="#27c2ab" d="M323.9,214.3 L330.5,209.5 340.2,211.5 333.6,216.2Z"/>
<path fill="#2ec4a5" stroke="#2ec4a5" d="M333.6,216.2 L340.2,211.5 349.8,213.5 343.2,218.1Z"/>
<path fill="#33c69d" stroke="#33c69d" d="M343.2,218.1 L349.8,213.5 359.5,215.4 352.9,219.9Z"/>
<path fill="#1ca9e0" stroke="#1ca9e0" d="M214.7,181.8 L221.2,176.4 230.9,179 224.3,184.4Z"/>
<path fill="#19acdc" stroke="#19acdc" d="M224.3,184.4 L230.9,179 240.6,181.5 234,186.9Z"/>
<path fill="#15afd9" stroke="#15afd9" d="M234,186.9 L240.6,181.5 250.2,184 243.6,189.3Z"/>
<path fill="#0fb2d5" stroke="#0fb2d5" d="M243.6,189.3 L250.2,184 259.9,186.5 253.3,191.8Z"/>
<path fill="#08b5d0" stroke="#08b5d0" d="M253.3,191.8 L259.9,186.5 269.5,188.9 262.9,194.1Z"/>
<path fill="#03b7cb" stroke="#03b7cb" d="M262.9,194.1 L269.5,188.9 279.2,191.3 272.6,196.5Z"/>
<path fill="#01b9c6" stroke="#01b9c6" d="M272.6,196.5 L279.2,191.3 288.8,193.6 282.2,198.8Z"/>
<path fill="#05bbc1" stroke="#05bbc1" d="M282.2,198.8 L288.8,193.6 298.5,195.9 291.9,201Z"/>
<path fill="#0dbdbb" stroke="#0dbdbb" d="M291.9,201 L298.5,195.9 308.1,198.2 301.5,203.2Z"/>
<path fill="#18bfb6" stroke="#18bfb6" d="M301.5,203.2 L308.1,198.2 317.8,200.4 311.2,205.3Z"/>
<path fill="#22c1b0" stroke="#22c1b0" d="M311.2,205.3 L317.8,200.4 327.4,202.5 320.8,207.4Z"/>
<path fill="#29c3a9" stroke="#29c3a9" d="M320.8,207.4 L327.4,202.5 337.1,204.7 330.5,209.5Z"/>
<path fill="#2fc5a3" stroke="#2fc5a3" d="M330.5,209.5 L337.1,204.7 346.7,206.8 340.2,211.5Z"/>
<path fill="#34c79c" stroke="#34c79c" d="M340.2,211.5 L346.7,206.8 356.4,208.8 349.8,213.5Z"/>
<path fill="#39c994" stroke="#39c994" d="M349.8,213.5 L356.4,208.8 366.1,210.9 359.5,215.4Z"/>
<path fill="#17aeda" stroke="#17aeda" d="M221.2,176.4 L227.8,171 237.5,173.6 230.9,179Z"/>
<path fill="#12b1d6" stroke="#12b1d6" d="M230.9,179 L237.5,173.6 247.1,176.2 240.6,181.5Z"/>
<path fill="#0ab4d2" stroke="#0ab4d2" d="M240.6,181.5 L247.1,176.2 256.8,178.7 250.2,184Z"/>
<path fill="#04b6cd" stroke="#04b6cd" d="M250.2,184 L256.8,178.7 266.5,181.2 259.9,186.5Z"/>
<path fill="#01b8c8" stroke="#01b8c8" d="M259.9,186.5 L266.5,181.2 276.1,183.6 269.5,188.9Z"/>
<path fill="#02bac3" stroke="#02bac3" d="M269.5,188.9 L276.1,183.6 285.8,186 279.2,191.3Z"/>
<path fill="#09bcbe" stroke="#09bcbe" d="M279.2,191.3 L285.8,186 295.4,188.4 288.8,193.6Z"/>
<path fill="#13beb9" stroke="#13beb9" d="M288.8,193.6 L295.4,188.4 305.1,190.8 298.5,195.9Z"/>
<path fill="#1dc0b3" stroke="#1dc0b3" d="M298.5,195.9 L305.1,190.8 314.7,193.1 308.1,198.2Z"/>
<path fill="#25c2ad" stroke="#25c2ad" d="M308.1,198.2 L314.7,193.1 324.4,195.4 317.8,200.4Z"/>
<path fill="#2cc4a7" stroke="#2cc4a7" d="M317.8,200.4 L324.4,195.4 334,197.6 327.4,202.5Z"/>
<path fill="#30c5a1" stroke="#30c5a1" d="M327.4,202.5 L334,197.6 343.7,199.8 337.1,204.7Z"/>
<path fill="#35c79a" stroke="#35c79a" d="M337.1,204.7 L343.7,199.8 353.3,202 346.7,206.8Z"/>
<path fill="#3bc992" stroke="#3bc992" d="M346.7,206.8 L353.3,202 363,204.2 356.4,208.8Z"/>
<path fill="#43ca8a" stroke="#43ca8a" d="M356.4,208.8 L363,204.2 372.6,206.3 366.1,210.9Z"/>
<path fill="#0cb3d3" stroke="#0cb3d3" d="M227.8,171 L234.4,165.6 244.1,168.2 237.5,173.6Z"/>
<path fill="#06b5cf" stroke="#06b5cf" d="M237.5,173.6 L244.1,168.2 253.7,170.8 247.1,176.2Z"/>
<path fill="#01b8ca" stroke="#01b8ca" d="M247.1,176.2 L253.7,170.8 263.4,173.3 256.8,178.7Z"/>
<path fill="#01bac5" stroke="#01bac5" d="M256.8,178.7 L263.4,173.3 273,175.8 266.5,181.2Z"/>
<path fill="#06bcc0" stroke="#06bcc0" d="M266.5,181.2 L273,175.8 282.7,178.3 276.1,183.6Z"/>
<path fill="#0ebebb" stroke="#0ebebb" d="M276.1,183.6 L282.7,178.3 292.3,180.8 285.8,186Z"/>
<path fill="#19bfb6" stroke="#19bfb6" d="M285.8,186 L292.3,180.8 302,183.2 295.4,188.4Z"/>
<path fill="#21c1b0" stroke="#21c1b0" d="M295.4,188.4 L302,183.2 311.7,185.6 305.1,190.8Z"/>
<path fill="#28c3aa" stroke="#28c3aa" d="M305.1,190.8 L311.7,185.6 321.3,188 314.7,193.1Z"/>
<path fill="#2ec4a4" stroke="#2ec4a4" d="M314.7,193.1 L321.3,188 331,190.3 324.4,195.4Z"/>
<path fill="#32c69e" stroke="#32c69e" d="M324.4,195.4 L331,190.3 340.6,192.6 334,197.6Z"/>
<path fill="#37c897" stroke="#37c897" d="M334,197.6 L340.6,192.6 350.3,194.9 343.7,199.8Z"/>
<path fill="#3dc990" stroke="#3dc990" d="M343.7,199.8 L350.3,194.9 359.9,197.2 353.3,202Z"/>
<path fill="#46cb88" stroke="#46cb88" d="M353.3,202 L359.9,197.2 369.6,199.4 363,204.2Z"/>
<path fill="#50cc80" stroke="#50cc80" d="M363,204.2 L369.6,199.4 379.2,201.7 372.6,206.3Z"/>
<path fill="#02b7cb" stroke="#02b7cb" d="M234.4,165.6 L241,160.1 250.7,162.7 244.1,168.2Z"/>
<path fill="#01b9c6" stroke="#01b9c6" d="M244.1,168.2 L250.7,162.7 260.3,165.3 253.7,170.8Z"/>
<path fill="#04bbc1" stroke="#04bbc1" d="M253.7,170.8 L260.3,165.3 270,167.9 263.4,173.3Z"/>
<path fill="#0bbdbc" stroke="#0bbdbc" d="M263.4,173.3 L270,167.9 279.6,170.4 273,175.8Z"/>
<path fill="#15bfb7" stroke="#15bfb7" d="M273,175.8 L279.6,170.4 289.3,172.9 282.7,178.3Z"/>
<path fill="#1ec0b2" stroke="#1ec0b2" d="M282.7,178.3 L289.3,172.9 298.9,175.4 292.3,180.8Z"/>
<path fill="#26c2ad" stroke="#26c2ad" d="M292.3,180.8 L298.9,175.4 308.6,177.9 302,183.2Z"/>
<path fill="#2cc4a7" stroke="#2cc4a7" d="M302,183.2 L308.6,177.9 318.2,180.4 311.7,185.6Z"/>
<path fill="#30c5a1" stroke="#30c5a1" d="M311.7,185.6 L318.2,180.4 327.9,182.8 321.3,188Z"/>
<path fill="#35c79b" stroke="#35c79b" d="M321.3,188 L327.9,182.8 337.6,185.2 331,190.3Z"/>
<path fill="#3ac994" stroke="#3ac994" d="M331,190.3 L337.6,185.2 347.2,187.6 340.6,192.6Z"/>
<path fill="#40ca8d" stroke="#40ca8d" d="M340.6,192.6 L347.2,187.6 356.9,190 350.3,194.9Z"/>
<path fill="#49cb85" stroke="#49cb85" d="M350.3,194.9 L356.9,190 366.5,192.4 359.9,197.2Z"/>
<path fill="#53cc7d" stroke="#53cc7d" d="M359.9,197.2 L366.5,192.4 376.2,194.7 369.6,199.4Z"/>
<path fill="#5dcc74" stroke="#5dcc74" d="M369.6,199.4 L376.2,194.7 385.8,197 379.2,201.7Z"/>
<path fill="#03bbc2" stroke="#03bbc2" d="M241,160.1 L247.6,154.6 257.3,157.2 250.7,162.7Z"/>
<path fill="#0abdbe" stroke="#0abdbe" d="M250.7,162.7 L257.3,157.2 266.9,159.8 260.3,165.3Z"/>
<path fill="#13beb9" stroke="#13beb9" d="M260.3,165.3 L266.9,159.8 276.6,162.4 270,167.9Z"/>
<path fill="#1cc0b3" stroke="#1cc0b3" d="M270,167.9 L276.6,162.4 286.2,165 279.6,170.4Z"/>
<path fill="#24c1ae" stroke="#24c1ae" d="M279.6,170.4 L286.2,165 295.9,167.5 289.3,172.9Z"/>
<path fill="#2ac3a9" stroke="#2ac3a9" d="M289.3,172.9 L295.9,167.5 305.5,170.1 298.9,175.4Z"/>
<path fill="#2fc5a3" stroke="#2fc5a3" d="M298.9,175.4 L305.5,170.1 315.2,172.6 308.6,177.9Z"/>
<path fill="#33c69d" stroke="#33c69d" d="M308.6,177.9 L315.2,172.6 324.8,175.1 318.2,180.4Z"/>
<path fill="#37c897" stroke="#37c897" d="M318.2,180.4 L324.8,175.1 334.5,177.6 327.9,182.8Z"/>
<path fill="#3dc990" stroke="#3dc990" d="M327.9,182.8 L334.5,177.6 344.1,180.1 337.6,185.2Z"/>
<path fill="#45cb89" stroke="#45cb89" d="M337.6,185.2 L344.1,180.1 353.8,182.6 347.2,187.6Z"/>
<path fill="#4ecc81" stroke="#4ecc81" d="M347.2,187.6 L353.8,182.6 363.4,185.1 356.9,190Z"/>
<path fill="#57cc7a" stroke="#57cc7a" d="M356.9,190 L363.4,185.1 373.1,187.5 366.5,192.4Z"/>
<path fill="#61cd71" stroke="#61cd71" d="M366.5,192.4 L373.1,187.5 382.8,189.9 376.2,194.7Z"/>
<path fill="#6ccd68" stroke="#6ccd68" d="M376.2,194.7 L382.8,189.9 392.4,192.3 385.8,197Z"/>
<path fill="#11beb9" stroke="#11beb9" d="M247.6,154.6 L254.2,149 263.8,151.6 257.3,157.2Z"/>
<path fill="#1bc0b4" stroke="#1bc0b4" d="M257.3,157.2 L263.8,151.6 273.5,154.2 266.9,159.8Z"/>
<path fill="#23c1af" stroke="#23c1af" d="M266.9,159.8 L273.5,154.2 283.2,156.9 276.6,162.4Z"/>
<path fill="#29c3aa" stroke="#29c3aa" d="M276.6,162.4 L283.2,156.9 292.8,159.5 286.2,165Z"/>
<path fill="#2ec4a5" stroke="#2ec4a5" d="M286.2,165 L292.8,159.5 302.5,162.1 295.9,167.5Z"/>
<path fill="#32c69f" stroke="#32c69f" d="M295.9,167.5 L302.5,162.1 312.1,164.7 305.5,170.1Z"/>
<path fill="#36c799" stroke="#36c799" d="M305.5,170.1 L312.1,164.7 321.8,167.3 315.2,172.6Z"/>
<path fill="#3bc993" stroke="#3bc993" d="M315.2,172.6 L321.8,167.3 331.4,169.8 324.8,175.1Z"/>
<path fill="#42ca8c" stroke="#42ca8c" d="M324.8,175.1 L331.4,169.8 341.1,172.4 334.5,177.6Z"/>
<path fill="#4acb85" stroke="#4acb85" d="M334.5,177.6 L341.1,172.4 350.7,175 344.1,180.1Z"/>
<path fill="#53cc7d" stroke="#53cc7d" d="M344.1,180.1 L350.7,175 360.4,177.5 353.8,182.6Z"/>
<path fill="#5dcc75" stroke="#5dcc75" d="M353.8,182.6 L360.4,177.5 370,180.1 363.4,185.1Z"/>
<path fill="#66cd6d" stroke="#66cd6d" d="M363.4,185.1 L370,180.1 379.7,182.6 373.1,187.5Z"/>
<path fill="#71cd64" stroke="#71cd64" d="M373.1,187.5 L379.7,182.6 389.3,185.1 382.8,189.9Z"/>
<path fill="#7ccc5c" stroke="#7ccc5c" d="M382.8,189.9 L389.3,185.1 399,187.7 392.4,192.3Z"/>
<path fill="#22c1b0" stroke="#22c1b0" d="M254.2,149 L260.8,143.3 270.4,146 263.8,151.6Z"/>
<path fill="#28c3ab" stroke="#28c3ab" d="M263.8,151.6 L270.4,146 280.1,148.7 273.5,154.2Z"/>
<path fill="#2dc4a5" stroke="#2dc4a5" d="M273.5,154.2 L280.1,148.7 289.7,151.3 283.2,156.9Z"/>
<path fill="#31c6a0" stroke="#31c6a0" d="M283.2,156.9 L289.7,151.3 299.4,154 292.8,159.5Z"/>
<path fill="#35c79a" stroke="#35c79a" d="M292.8,159.5 L299.4,154 309.1,156.6 302.5,162.1Z"/>
<path fill="#3ac994" stroke="#3ac994" d="M302.5,162.1 L309.1,156.6 318.7,159.3 312.1,164.7Z"/>
<path fill="#3fca8e" stroke="#3fca8e" d="M312.1,164.7 L318.7,159.3 328.4,161.9 321.8,167.3Z"/>
<path fill="#47cb87" stroke="#47cb87" d="M321.8,167.3 L328.4,161.9 338,164.5 331.4,169.8Z"/>
<path fill="#50cc7f" stroke="#50cc7f" d="M331.4,169.8 L338,164.5 347.7,167.2 341.1,172.4Z"/>
<path fill="#59cc78" stroke="#59cc78" d="M341.1,172.4 L347.7,167.2 357.3,169.8 350.7,175Z"/>
<path fill="#62cd70" stroke="#62cd70" d="M350.7,175 L357.3,169.8 367,172.4 360.4,177.5Z"/>
<path fill="#6ccd68" stroke="#6ccd68" d="M360.4,177.5 L367,172.4 376.6,175.1 370,180.1Z"/>
<path fill="#77cc60" stroke="#77cc60" d="M370,180.1 L376.6,175.1 386.3,177.7 379.7,182.6Z"/>
<path fill="#82cc58" stroke="#82cc58" d="M379.7,182.6 L386.3,177.7 395.9,180.3 389.3,185.1Z"/>
<path fill="#8ccb50" stroke="#8ccb50" d="M389.3,185.1 L395.9,180.3 405.6,182.9 399,187.7Z"/>
<path fill="#2dc4a6" stroke="#2dc4a6" d="M260.8,143.3 L267.4,137.7 277,140.3 270.4,146Z"/>
<path fill="#31c5a1" stroke="#31c5a1" d="M270.4,146 L277,140.3 286.7,143 280.1,148.7Z"/>
<path fill="#35c79b" stroke="#35c79b" d="M280.1,148.7 L286.7,143 296.3,145.7 289.7,151.3Z"/>
<path fill="#39c895" stroke="#39c895" d="M289.7,151.3 L296.3,145.7 306,148.4 299.4,154Z"/>
<path fill="#3fca8f" stroke="#3fca8f" d="M299.4,154 L306,148.4 315.6,151.1 309.1,156.6Z"/>
<path fill="#46cb88" stroke="#46cb88" d="M309.1,156.6 L315.6,151.1 325.3,153.8 318.7,159.3Z"/>
<path fill="#4ecc81" stroke="#4ecc81" d="M318.7,159.3 L325.3,153.8 334.9,156.5 328.4,161.9Z"/>
<path fill="#57cc7a" stroke="#57cc7a" d="M328.4,161.9 L334.9,156.5 344.6,159.2 338,164.5Z"/>
<path fill="#60cd72" stroke="#60cd72" d="M338,164.5 L344.6,159.2 354.3,161.9 347.7,167.2Z"/>
<path fill="#6acd6a" stroke="#6acd6a" d="M347.7,167.2 L354.3,161.9 363.9,164.6 357.3,169.8Z"/>
<path fill="#73cd62" stroke="#73cd62" d="M357.3,169.8 L363.9,164.6 373.6,167.3 367,172.4Z"/>
<path fill="#7ecc5b" stroke="#7ecc5b" d="M367,172.4 L373.6,167.3 383.2,170 376.6,175.1Z"/>
<path fill="#88cb53" stroke="#88cb53" d="M376.6,175.1 L383.2,170 392.9,172.7 386.3,177.7Z"/>
<path fill="#92ca4b" stroke="#92ca4b" d="M386.3,177.7 L392.9,172.7 402.5,175.5 395.9,180.3Z"/>
<path fill="#9cc944" stroke="#9cc944" d="M395.9,180.3 L402.5,175.5 412.2,178.2 405.6,182.9Z"/>
<path fill="#34c79b" stroke="#34c79b" d="M267.4,137.7 L274,131.9 283.6,134.6 277,140.3Z"/>
<path fill="#39c895" stroke="#39c895" d="M277,140.3 L283.6,134.6 293.3,137.4 286.7,143Z"/>
<path fill="#3eca8f" stroke="#3eca8f" d="M286.7,143 L293.3,137.4 302.9,140.1 296.3,145.7Z"/>
<path fill="#45cb88" stroke="#45cb88" d="M296.3,145.7 L302.9,140.1 312.6,142.8 306,148.4Z"/>
<path fill="#4dcc82" stroke="#4dcc82" d="M306,148.4 L312.6,142.8 322.2,145.5 315.6,151.1Z"/>
<path fill="#56cc7b" stroke="#56cc7b" d="M315.6,151.1 L322.2,145.5 331.9,148.3 325.3,153.8Z"/>
<path fill="#5fcd73" stroke="#5fcd73" d="M325.3,153.8 L331.9,148.3 341.5,151 334.9,156.5Z"/>
<path fill="#68cd6c" stroke="#68cd6c" d="M334.9,156.5 L341.5,151 351.2,153.8 344.6,159.2Z"/>
<path fill="#71cd64" stroke="#71cd64" d="M344.6,159.2 L351.2,153.8 360.8,156.6 354.3,161.9Z"/>
<path fill="#7ccc5c" stroke="#7ccc5c" d="M354.3,161.9 L360.8,156.6 370.5,159.4 363.9,164.6Z"/>
<path fill="#86cb55" stroke="#86cb55" d="M363.9,164.6 L370.5,159.4 380.1,162.2 373.6,167.3Z"/>
<path fill="#8fcb4e" stroke="#8fcb4e" d="M373.6,167.3 L380.1,162.2 389.8,165 383.2,170Z"/>
<path fill="#99c946" stroke="#99c946" d="M383.2,170 L389.8,165 399.5,167.8 392.9,172.7Z"/>
<path fill="#a2c83f" stroke="#a2c83f" d="M392.9,172.7 L399.5,167.8 409.1,170.6 402.5,175.5Z"/>
<path fill="#acc739" stroke="#acc739" d="M402.5,175.5 L409.1,170.6 418.8,173.4 412.2,178.2Z"/>
<path fill="#3eca8f" stroke="#3eca8f" d="M274,131.9 L280.6,126.2 290.2,128.9 283.6,134.6Z"/>
<path fill="#45cb88" stroke="#45cb88" d="M283.6,134.6 L290.2,128.9 299.9,131.6 293.3,137.4Z"/>
<path fill="#4dcc82" stroke="#4dcc82" d="M293.3,137.4 L299.9,131.6 309.5,134.4 302.9,140.1Z"/>
<path fill="#56cc7b" stroke="#56cc7b" d="M302.9,140.1 L309.5,134.4 319.2,137.2 312.6,142.8Z"/>
<path fill="#5ecd74" stroke="#5ecd74" d="M312.6,142.8 L319.2,137.2 328.8,140 322.2,145.5Z"/>
<path fill="#67cd6c" stroke="#67cd6c" d="M322.2,145.5 L328.8,140 338.5,142.8 331.9,148.3Z"/>
<path fill="#71cd64" stroke="#71cd64" d="M331.9,148.3 L338.5,142.8 348.1,145.6 341.5,151Z"/>
<path fill="#7bcc5d" stroke="#7bcc5d" d="M341.5,151 L348.1,145.6 357.8,148.4 351.2,153.8Z"/>
<path fill="#84cb56" stroke="#84cb56" d="M351.2,153.8 L357.8,148.4 367.4,151.2 360.8,156.6Z"/>
<path fill="#8ecb4f" stroke="#8ecb4f" d="M360.8,156.6 L367.4,151.2 377.1,154.1 370.5,159.4Z"/>
<path fill="#97ca47" stroke="#97ca47" d="M370.5,159.4 L377.1,154.1 386.7,157 380.1,162.2Z"/>
<path fill="#a0c841" stroke="#a0c841" d="M380.1,162.2 L386.7,157 396.4,159.9 389.8,165Z"/>
<path fill="#a9c73a" stroke="#a9c73a" d="M389.8,165 L396.4,159.9 406,162.8 399.5,167.8Z"/>
<path fill="#b2c635" stroke="#b2c635" d="M399.5,167.8 L406,162.8 415.7,165.7 409.1,170.6Z"/>
<path fill="#bac430" stroke="#bac430" d="M409.1,170.6 L415.7,165.7 425.4,168.6 418.8,173.4Z"/>
<path fill="#4dcc82" stroke="#4dcc82" d="M280.6,126.2 L287.1,120.4 296.8,123.1 290.2,128.9Z"/>
<path fill="#56cc7b" stroke="#56cc7b" d="M290.2,128.9 L296.8,123.1 306.4,125.9 299.9,131.6Z"/>
<path fill="#5fcd73" stroke="#5fcd73" d="M299.9,131.6 L306.4,125.9 316.1,128.7 309.5,134.4Z"/>
<path fill="#68cd6c" stroke="#68cd6c" d="M309.5,134.4 L316.1,128.7 325.8,131.5 319.2,137.2Z"/>
<path fill="#71cd64" stroke="#71cd64" d="M319.2,137.2 L325.8,131.5 335.4,134.3 328.8,140Z"/>
<path fill="#7bcc5d" stroke="#7bcc5d" d="M328.8,140 L335.4,134.3 345.1,137.2 338.5,142.8Z"/>
<path fill="#84cc56" stroke="#84cc56" d="M338.5,142.8 L345.1,137.2 354.7,140.1 348.1,145.6Z"/>
<path fill="#8ecb4f" stroke="#8ecb4f" d="M348.1,145.6 L354.7,140.1 364.4,143 357.8,148.4Z"/>
<path fill="#97ca48" stroke="#97ca48" d="M357.8,148.4 L364.4,143 374,145.9 367.4,151.2Z"/>
<path fill="#a0c841" stroke="#a0c841" d="M367.4,151.2 L374,145.9 383.7,148.8 377.1,154.1Z"/>
<path fill="#a9c73b" stroke="#a9c73b" d="M377.1,154.1 L383.7,148.8 393.3,151.8 386.7,157Z"/>
<path fill="#b1c635" stroke="#b1c635" d="M386.7,157 L393.3,151.8 403,154.7 396.4,159.9Z"/>
<path fill="#b9c430" stroke="#b9c430" d="M396.4,159.9 L403,154.7 412.6,157.7 406,162.8Z"/>
<path fill="#c1c32c" stroke="#c1c32c" d="M406,162.8 L412.6,157.7 422.3,160.8 415.7,165.7Z"/>
<path fill="#c9c129" stroke="#c9c129" d="M415.7,165.7 L422.3,160.8 431.9,163.8 425.4,168.6Z"/>
<path fill="#5fcd73" stroke="#5fcd73" d="M287.1,120.4 L293.7,114.5 303.4,117.3 296.8,123.1Z"/>
<path fill="#68cd6b" stroke="#68cd6b" d="M296.8,123.1 L303.4,117.3 313,120.1 306.4,125.9Z"/>
<path fill="#71cd64" stroke="#71cd64" d="M306.4,125.9 L313,120.1 322.7,122.9 316.1,128.7Z"/>
<path fill="#7bcc5d" stroke="#7bcc5d" d="M316.1,128.7 L322.7,122.9 332.3,125.8 325.8,131.5Z"/>
<path fill="#85cb56" stroke="#85cb56" d="M325.8,131.5 L332.3,125.8 342,128.7 335.4,134.3Z"/>
<path fill="#8ecb4e" stroke="#8ecb4e" d="M335.4,134.3 L342,128.7 351.7,131.6 345.1,137.2Z"/>
<path fill="#97ca47" stroke="#97ca47" d="M345.1,137.2 L351.7,131.6 361.3,134.5 354.7,140.1Z"/>
<path fill="#a0c841" stroke="#a0c841" d="M354.7,140.1 L361.3,134.5 371,137.5 364.4,143Z"/>
<path fill="#a9c73b" stroke="#a9c73b" d="M364.4,143 L371,137.5 380.6,140.5 374,145.9Z"/>
<path fill="#b1c635" stroke="#b1c635" d="M374,145.9 L380.6,140.5 390.3,143.5 383.7,148.8Z"/>
<path fill="#b9c430" stroke="#b9c430" d="M383.7,148.8 L390.3,143.5 399.9,146.5 393.3,151.8Z"/>
<path fill="#c1c32c" stroke="#c1c32c" d="M393.3,151.8 L399.9,146.5 409.6,149.6 403,154.7Z"/>
<path fill="#c8c129" stroke="#c8c129" d="M403,154.7 L409.6,149.6 419.2,152.7 412.6,157.7Z"/>
<path fill="#cfc028" stroke="#cfc028" d="M412.6,157.7 L419.2,152.7 428.9,155.8 422.3,160.8Z"/>
<path fill="#d6be28" stroke="#d6be28" d="M422.3,160.8 L428.9,155.8 438.5,159 431.9,163.8Z"/>
<path fill="#73cd63" stroke="#73cd63" d="M293.7,114.5 L300.3,108.7 310,111.5 303.4,117.3Z"/>
<path fill="#7ccc5c" stroke="#7ccc5c" d="M303.4,117.3 L310,111.5 319.6,114.3 313,120.1Z"/>
<path fill="#86cb55" stroke="#86cb55" d="M313,120.1 L319.6,114.3 329.3,117.2 322.7,122.9Z"/>
<path fill="#8fca4d" stroke="#8fca4d" d="M322.7,122.9 L329.3,117.2 338.9,120.1 332.3,125.8Z"/>
<path fill="#98c946" stroke="#98c946" d="M332.3,125.8 L338.9,120.1 348.6,123 342,128.7Z"/>
<path fill="#a1c840" stroke="#a1c840" d="M342,128.7 L348.6,123 358.2,126 351.7,131.6Z"/>
<path fill="#aac73a" stroke="#aac73a" d="M351.7,131.6 L358.2,126 367.9,129 361.3,134.5Z"/>
<path fill="#b2c535" stroke="#b2c535" d="M361.3,134.5 L367.9,129 377.5,132 371,137.5Z"/>
<path fill="#bac430" stroke="#bac430" d="M371,137.5 L377.5,132 387.2,135.1 380.6,140.5Z"/>
<path fill="#c2c32c" stroke="#c2c32c" d="M380.6,140.5 L387.2,135.1 396.9,138.2 390.3,143.5Z"/>
<path fill="#c9c129" stroke="#c9c129" d="M390.3,143.5 L396.9,138.2 406.5,141.3 399.9,146.5Z"/>
<path fill="#d0c028" stroke="#d0c028" d="M399.9,146.5 L406.5,141.3 416.2,144.4 409.6,149.6Z"/>
<path fill="#d6be28" stroke="#d6be28" d="M409.6,149.6 L416.2,144.4 425.8,147.6 419.2,152.7Z"/>
<path fill="#dcbd29" stroke="#dcbd29" d="M419.2,152.7 L425.8,147.6 435.5,150.9 428.9,155.8Z"/>
<path fill="#e2bc2b" stroke="#e2bc2b" d="M428.9,155.8 L435.5,150.9 445.1,154.1 438.5,159Z"/>
<path fill="#88cb53" stroke="#88cb53" d="M300.3,108.7 L306.9,102.8 316.6,105.6 310,111.5Z"/>
<path fill="#91ca4c" stroke="#91ca4c" d="M310,111.5 L316.6,105.6 326.2,108.4 319.6,114.3Z"/>
<path fill="#9ac945" stroke="#9ac945" d="M319.6,114.3 L326.2,108.4 335.9,111.4 329.3,117.2Z"/>
<path fill="#a3c83f" stroke="#a3c83f" d="M329.3,117.2 L335.9,111.4 345.5,114.3 338.9,120.1Z"/>
<path fill="#acc739" stroke="#acc739" d="M338.9,120.1 L345.5,114.3 355.2,117.3 348.6,123Z"/>
<path fill="#b4c534" stroke="#b4c534" d="M348.6,123 L355.2,117.3 364.8,120.3 358.2,126Z"/>
<path fill="#bcc42f" stroke="#bcc42f" d="M358.2,126 L364.8,120.3 374.5,123.4 367.9,129Z"/>
<path fill="#c3c22b" stroke="#c3c22b" d="M367.9,129 L374.5,123.4 384.1,126.5 377.5,132Z"/>
<path fill="#cac129" stroke="#cac129" d="M377.5,132 L384.1,126.5 393.8,129.6 387.2,135.1Z"/>
<path fill="#d1bf27" stroke="#d1bf27" d="M387.2,135.1 L393.8,129.6 403.4,132.8 396.9,138.2Z"/>
<path fill="#d7be28" stroke="#d7be28" d="M396.9,138.2 L403.4,132.8 413.1,136 406.5,141.3Z"/>
<path fill="#ddbd29" stroke="#ddbd29" d="M406.5,141.3 L413.1,136 422.7,139.3 416.2,144.4Z"/>
<path fill="#e3bc2c" stroke="#e3bc2c" d="M416.2,144.4 L422.7,139.3 432.4,142.6 425.8,147.6Z"/>
<path fill="#e8bb2f" stroke="#e8bb2f" d="M425.8,147.6 L432.4,142.6 442.1,145.9 435.5,150.9Z"/>
<path fill="#edba33" stroke="#edba33" d="M435.5,150.9 L442.1,145.9 451.7,149.3 445.1,154.1Z"/>
<path fill="#9cc944" stroke="#9cc944" d="M306.9,102.8 L313.5,96.8 323.2,99.7 316.6,105.6Z"/>
<path fill="#a5c83d" stroke="#a5c83d" d="M316.6,105.6 L323.2,99.7 332.8,102.6 326.2,108.4Z"/>
<path fill="#aec637" stroke="#aec637" d="M326.2,108.4 L332.8,102.6 342.5,105.5 335.9,111.4Z"/>
<path fill="#b6c532" stroke="#b6c532" d="M335.9,111.4 L342.5,105.5 352.1,108.5 345.5,114.3Z"/>
<path fill="#bec32e" stroke="#bec32e" d="M345.5,114.3 L352.1,108.5 361.8,111.5 355.2,117.3Z"/>
<path fill="#c5c22a" stroke="#c5c22a" d="M355.2,117.3 L361.8,111.5 371.4,114.6 364.8,120.3Z"/>
<path fill="#ccc028" stroke="#ccc028" d="M364.8,120.3 L371.4,114.6 381.1,117.7 374.5,123.4Z"/>
<path fill="#d3bf27" stroke="#d3bf27" d="M374.5,123.4 L381.1,117.7 390.7,120.9 384.1,126.5Z"/>
<path fill="#d9be28" stroke="#d9be28" d="M384.1,126.5 L390.7,120.9 400.4,124.1 393.8,129.6Z"/>
<path fill="#dfbc2a" stroke="#dfbc2a" d="M393.8,129.6 L400.4,124.1 410,127.4 403.4,132.8Z"/>
<path fill="#e4bb2c" stroke="#e4bb2c" d="M403.4,132.8 L410,127.4 419.7,130.7 413.1,136Z"/>
<path fill="#e9bb30" stroke="#e9bb30" d="M413.1,136 L419.7,130.7 429.3,134.1 422.7,139.3Z"/>
<path fill="#eeba34" stroke="#eeba34" d="M422.7,139.3 L429.3,134.1 439,137.5 432.4,142.6Z"/>
<path fill="#f2ba38" stroke="#f2ba38" d="M432.4,142.6 L439,137.5 448.6,140.9 442.1,145.9Z"/>
<path fill="#f7ba3c" stroke="#f7ba3c" d="M442.1,145.9 L448.6,140.9 458.3,144.4 451.7,149.3Z"/>
<path fill="#b0c636" stroke="#b0c636" d="M313.5,96.8 L320.1,90.8 329.7,93.7 323.2,99.7Z"/>
<path fill="#b8c431" stroke="#b8c431" d="M323.2,99.7 L329.7,93.7 339.4,96.6 332.8,102.6Z"/>
<path fill="#c0c32d" stroke="#c0c32d" d="M332.8,102.6 L339.4,96.6 349,99.6 342.5,105.5Z"/>
<path fill="#c8c129" stroke="#c8c129" d="M342.5,105.5 L349,99.6 358.7,102.7 352.1,108.5Z"/>
<path fill="#cfc028" stroke="#cfc028" d="M352.1,108.5 L358.7,102.7 368.4,105.8 361.8,111.5Z"/>
<path fill="#d5be28" stroke="#d5be28" d="M361.8,111.5 L368.4,105.8 378,108.9 371.4,114.6Z"/>
<path fill="#dbbd29" stroke="#dbbd29" d="M371.4,114.6 L378,108.9 387.7,112.1 381.1,117.7Z"/>
<path fill="#e1bc2b" stroke="#e1bc2b" d="M381.1,117.7 L387.7,112.1 397.3,115.3 390.7,120.9Z"/>
<path fill="#e7bb2d" stroke="#e7bb2d" d="M390.7,120.9 L397.3,115.3 407,118.6 400.4,124.1Z"/>
<path fill="#ebba32" stroke="#ebba32" d="M400.4,124.1 L407,118.6 416.6,122 410,127.4Z"/>
<path fill="#f0ba36" stroke="#f0ba36" d="M410,127.4 L416.6,122 426.3,125.4 419.7,130.7Z"/>
<path fill="#f4ba3a" stroke="#f4ba3a" d="M419.7,130.7 L426.3,125.4 435.9,128.8 429.3,134.1Z"/>
<path fill="#f8ba3d" stroke="#f8ba3d" d="M429.3,134.1 L435.9,128.8 445.6,132.3 439,137.5Z"/>
<path fill="#fbbc3d" stroke="#fbbc3d" d="M439,137.5 L445.6,132.3 455.2,135.9 448.6,140.9Z"/>
<path fill="#febe3c" stroke="#febe3c" d="M448.6,140.9 L455.2,135.9 464.9,139.5 458.3,144.4Z"/>
<path fill="#c3c22b" stroke="#c3c22b" d="M320.1,90.8 L326.7,84.8 336.3,87.7 329.7,93.7Z"/>
<path fill="#cac129" stroke="#cac129" d="M329.7,93.7 L336.3,87.7 346,90.7 339.4,96.6Z"/>
<path fill="#d1bf27" stroke="#d1bf27" d="M339.4,96.6 L346,90.7 355.6,93.7 349,99.6Z"/>
<path fill="#d8be28" stroke="#d8be28" d="M349,99.6 L355.6,93.7 365.3,96.8 358.7,102.7Z"/>
<path fill="#debc2a" stroke="#debc2a" d="M358.7,102.7 L365.3,96.8 374.9,100 368.4,105.8Z"/>
<path fill="#e4bb2c" stroke="#e4bb2c" d="M368.4,105.8 L374.9,100 384.6,103.2 378,108.9Z"/>
<path fill="#e9bb30" stroke="#e9bb30" d="M378,108.9 L384.6,103.2 394.2,106.4 387.7,112.1Z"/>
<path fill="#eeba34" stroke="#eeba34" d="M387.7,112.1 L394.2,106.4 403.9,109.7 397.3,115.3Z"/>
<path fill="#f3ba38" stroke="#f3ba38" d="M397.3,115.3 L403.9,109.7 413.6,113.1 407,118.6Z"/>
<path fill="#f7ba3c" stroke="#f7ba3c" d="M407,118.6 L413.6,113.1 423.2,116.6 416.6,122Z"/>
<path fill="#fabb3d" stroke="#fabb3d" d="M416.6,122 L423.2,116.6 432.9,120.1 426.3,125.4Z"/>
<path fill="#fdbd3d" stroke="#fdbd3d" d="M426.3,125.4 L432.9,120.1 442.5,123.6 435.9,128.8Z"/>
<path fill="#febf3b" stroke="#febf3b" d="M435.9,128.8 L442.5,123.6 452.2,127.2 445.6,132.3Z"/>
<path fill="#fec239" stroke="#fec239" d="M445.6,132.3 L452.2,127.2 461.8,130.9 455.2,135.9Z"/>
<path fill="#fec437" stroke="#fec437" d="M455.2,135.9 L461.8,130.9 471.5,134.6 464.9,139.5Z"/>
<path fill="#d4bf28" stroke="#d4bf28" d="M326.7,84.8 L333.3,78.7 342.9,81.7 336.3,87.7Z"/>
<path fill="#dabd28" stroke="#dabd28" d="M336.3,87.7 L342.9,81.7 352.6,84.7 346,90.7Z"/>
<path fill="#e1bc2b" stroke="#e1bc2b" d="M346,90.7 L352.6,84.7 362.2,87.8 355.6,93.7Z"/>
<path fill="#e7bb2d" stroke="#e7bb2d" d="M355.6,93.7 L362.2,87.8 371.9,90.9 365.3,96.8Z"/>
<path fill="#ecba32" stroke="#ecba32" d="M365.3,96.8 L371.9,90.9 381.5,94.1 374.9,100Z"/>
<path fill="#f1ba37" stroke="#f1ba37" d="M374.9,100 L381.5,94.1 391.2,97.4 384.6,103.2Z"/>
<path fill="#f5ba3b" stroke="#f5ba3b" d="M384.6,103.2 L391.2,97.4 400.8,100.7 394.2,106.4Z"/>
<path fill="#f9bb3d" stroke="#f9bb3d" d="M394.2,106.4 L400.8,100.7 410.5,104.1 403.9,109.7Z"/>
<path fill="#fcbc3d" stroke="#fcbc3d" d="M403.9,109.7 L410.5,104.1 420.1,107.6 413.6,113.1Z"/>
<path fill="#febe3c" stroke="#febe3c" d="M413.6,113.1 L420.1,107.6 429.8,111.1 423.2,116.6Z"/>
<path fill="#fec13a" stroke="#fec13a" d="M423.2,116.6 L429.8,111.1 439.5,114.7 432.9,120.1Z"/>
<path fill="#fec438" stroke="#fec438" d="M432.9,120.1 L439.5,114.7 449.1,118.3 442.5,123.6Z"/>
<path fill="#fec636" stroke="#fec636" d="M442.5,123.6 L449.1,118.3 458.8,122.1 452.2,127.2Z"/>
<path fill="#fec934" stroke="#fec934" d="M452.2,127.2 L458.8,122.1 468.4,125.8 461.8,130.9Z"/>
<path fill="#fdcb33" stroke="#fdcb33" d="M461.8,130.9 L468.4,125.8 478.1,129.7 471.5,134.6Z"/>
<path fill="#e3bc2c" stroke="#e3bc2c" d="M333.3,78.7 L339.9,72.6 349.5,75.6 342.9,81.7Z"/>
<path fill="#e9bb30" stroke="#e9bb30" d="M342.9,81.7 L349.5,75.6 359.2,78.7 352.6,84.7Z"/>
<path fill="#eeba35" stroke="#eeba35" d="M352.6,84.7 L359.2,78.7 368.8,81.8 362.2,87.8Z"/>
<path fill="#f3ba39" stroke="#f3ba39" d="M362.2,87.8 L368.8,81.8 378.5,85 371.9,90.9Z"/>
<path fill="#f8ba3d" stroke="#f8ba3d" d="M371.9,90.9 L378.5,85 388.1,88.3 381.5,94.1Z"/>
<path fill="#fbbc3d" stroke="#fbbc3d" d="M381.5,94.1 L388.1,88.3 397.8,91.6 391.2,97.4Z"/>
<path fill="#febe3c" stroke="#febe3c" d="M391.2,97.4 L397.8,91.6 407.4,95 400.8,100.7Z"/>
<path fill="#fec13a" stroke="#fec13a" d="M400.8,100.7 L407.4,95 417.1,98.5 410.5,104.1Z"/>
<path fill="#fec338" stroke="#fec338" d="M410.5,104.1 L417.1,98.5 426.7,102 420.1,107.6Z"/>
<path fill="#fec636" stroke="#fec636" d="M420.1,107.6 L426.7,102 436.4,105.6 429.8,111.1Z"/>
<path fill="#fec934" stroke="#fec934" d="M429.8,111.1 L436.4,105.6 446,109.3 439.5,114.7Z"/>
<path fill="#fdcb33" stroke="#fdcb33" d="M439.5,114.7 L446,109.3 455.7,113.1 449.1,118.3Z"/>
<path fill="#fdce31" stroke="#fdce31" d="M449.1,118.3 L455.7,113.1 465.3,116.9 458.8,122.1Z"/>
<path fill="#fcd030" stroke="#fcd030" d="M458.8,122.1 L465.3,116.9 475,120.8 468.4,125.8Z"/>
<path fill="#fbd22f" stroke="#fbd22f" d="M468.4,125.8 L475,120.8 484.7,124.7 478.1,129.7Z"/>
<path fill="#f1ba37" stroke="#f1ba37" d="M339.9,72.6 L346.4,66.5 356.1,69.5 349.5,75.6Z"/>
<path fill="#f6ba3b" stroke="#f6ba3b" d="M349.5,75.6 L356.1,69.5 365.8,72.6 359.2,78.7Z"/>
<path fill="#fabb3d" stroke="#fabb3d" d="M359.2,78.7 L365.8,72.6 375.4,75.8 368.8,81.8Z"/>
<path fill="#fdbd3d" stroke="#fdbd3d" d="M368.8,81.8 L375.4,75.8 385.1,79.1 378.5,85Z"/>
<path fill="#fec03b" stroke="#fec03b" d="M378.5,85 L385.1,79.1 394.7,82.4 388.1,88.3Z"/>
<path fill="#fec338" stroke="#fec338" d="M388.1,88.3 L394.7,82.4 404.4,85.8 397.8,91.6Z"/>
<path fill="#fec636" stroke="#fec636" d="M397.8,91.6 L404.4,85.8 414,89.3 407.4,95Z"/>
<path fill="#fec934" stroke="#fec934" d="M407.4,95 L414,89.3 423.7,92.8 417.1,98.5Z"/>
<path fill="#fdcb32" stroke="#fdcb32" d="M417.1,98.5 L423.7,92.8 433.3,96.5 426.7,102Z"/>
<path fill="#fdce31" stroke="#fdce31" d="M426.7,102 L433.3,96.5 443,100.2 436.4,105.6Z"/>
<path fill="#fcd12f" stroke="#fcd12f" d="M436.4,105.6 L443,100.2 452.6,103.9 446,109.3Z"/>
<path fill="#fbd32e" stroke="#fbd32e" d="M446,109.3 L452.6,103.9 462.3,107.8 455.7,113.1Z"/>
<path fill="#fad62d" stroke="#fad62d" d="M455.7,113.1 L462.3,107.8 471.9,111.7 465.3,116.9Z"/>
<path fill="#f9d82c" stroke="#f9d82c" d="M465.3,116.9 L471.9,111.7 481.6,115.7 475,120.8Z"/>
<path fill="#f8da2b" stroke="#f8da2b" d="M475,120.8 L481.6,115.7 491.2,119.8 484.7,124.7Z"/>
<path fill="#fcbc3d" stroke="#fcbc3d" d="M346.4,66.5 L353,60.4 362.7,63.4 356.1,69.5Z"/>
<path fill="#febf3b" stroke="#febf3b" d="M356.1,69.5 L362.7,63.4 372.3,66.6 365.8,72.6Z"/>
<path fill="#fec239" stroke="#fec239" d="M365.8,72.6 L372.3,66.6 382,69.8 375.4,75.8Z"/>
<path fill="#fec537" stroke="#fec537" d="M375.4,75.8 L382,69.8 391.6,73.1 385.1,79.1Z"/>
<path fill="#fec834" stroke="#fec834" d="M385.1,79.1 L391.6,73.1 401.3,76.5 394.7,82.4Z"/>
<path fill="#fdcb32" stroke="#fdcb32" d="M394.7,82.4 L401.3,76.5 411,80 404.4,85.8Z"/>
<path fill="#fdce31" stroke="#fdce31" d="M404.4,85.8 L411,80 420.6,83.5 414,89.3Z"/>
<path fill="#fcd12f" stroke="#fcd12f" d="M414,89.3 L420.6,83.5 430.3,87.1 423.7,92.8Z"/>
<path fill="#fad42e" stroke="#fad42e" d="M423.7,92.8 L430.3,87.1 439.9,90.9 433.3,96.5Z"/>
<path fill="#f9d62d" stroke="#f9d62d" d="M433.3,96.5 L439.9,90.9 449.6,94.7 443,100.2Z"/>
<path fill="#f8d92c" stroke="#f8d92c" d="M443,100.2 L449.6,94.7 459.2,98.5 452.6,103.9Z"/>
<path fill="#f7db2a" stroke="#f7db2a" d="M452.6,103.9 L459.2,98.5 468.9,102.5 462.3,107.8Z"/>
<path fill="#f6de29" stroke="#f6de29" d="M462.3,107.8 L468.9,102.5 478.5,106.5 471.9,111.7Z"/>
<path fill="#f6e029" stroke="#f6e029" d="M471.9,111.7 L478.5,106.5 488.2,110.7 481.6,115.7Z"/>
<path fill="#f5e128" stroke="#f5e128" d="M481.6,115.7 L488.2,110.7 497.8,114.9 491.2,119.8Z"/>
<path fill="#fec437" stroke="#fec437" d="M353,60.4 L359.6,54.2 369.3,57.3 362.7,63.4Z"/>
<path fill="#fec835" stroke="#fec835" d="M362.7,63.4 L369.3,57.3 378.9,60.5 372.3,66.6Z"/>
<path fill="#fdcb33" stroke="#fdcb33" d="M372.3,66.6 L378.9,60.5 388.6,63.7 382,69.8Z"/>
<path fill="#fdce31" stroke="#fdce31" d="M382,69.8 L388.6,63.7 398.2,67.1 391.6,73.1Z"/>
<path fill="#fbd12f" stroke="#fbd12f" d="M391.6,73.1 L398.2,67.1 407.9,70.6 401.3,76.5Z"/>
<path fill="#fad42e" stroke="#fad42e" d="M401.3,76.5 L407.9,70.6 417.5,74.1 411,80Z"/>
<path fill="#f9d72c" stroke="#f9d72c" d="M411,80 L417.5,74.1 427.2,77.7 420.6,83.5Z"/>
<path fill="#f8da2b" stroke="#f8da2b" d="M420.6,83.5 L427.2,77.7 436.8,81.4 430.3,87.1Z"/>
<path fill="#f7dd2a" stroke="#f7dd2a" d="M430.3,87.1 L436.8,81.4 446.5,85.2 439.9,90.9Z"/>
<path fill="#f6df29" stroke="#f6df29" d="M439.9,90.9 L446.5,85.2 456.2,89.1 449.6,94.7Z"/>
<path fill="#f5e128" stroke="#f5e128" d="M449.6,94.7 L456.2,89.1 465.8,93.1 459.2,98.5Z"/>
<path fill="#f5e327" stroke="#f5e327" d="M459.2,98.5 L465.8,93.1 475.5,97.2 468.9,102.5Z"/>
<path fill="#f5e526" stroke="#f5e526" d="M468.9,102.5 L475.5,97.2 485.1,101.3 478.5,106.5Z"/>
<path fill="#f5e725" stroke="#f5e725" d="M478.5,106.5 L485.1,101.3 494.8,105.6 488.2,110.7Z"/>
<path fill="#f5e924" stroke="#f5e924" d="M488.2,110.7 L494.8,105.6 504.4,109.9 497.8,114.9Z"/>
<path fill="#fdcd31" stroke="#fdcd31" d="M359.6,54.2 L366.2,47.9 375.9,51.1 369.3,57.3Z"/>
<path fill="#fcd12f" stroke="#fcd12f" d="M369.3,57.3 L375.9,51.1 385.5,54.3 378.9,60.5Z"/>
<path fill="#fad42e" stroke="#fad42e" d="M378.9,60.5 L385.5,54.3 395.2,57.7 388.6,63.7Z"/>
<path fill="#f9d72c" stroke="#f9d72c" d="M388.6,63.7 L395.2,57.7 404.8,61.1 398.2,67.1Z"/>
<path fill="#f8da2b" stroke="#f8da2b" d="M398.2,67.1 L404.8,61.1 414.5,64.6 407.9,70.6Z"/>
<path fill="#f6dd29" stroke="#f6dd29" d="M407.9,70.6 L414.5,64.6 424.1,68.2 417.5,74.1Z"/>
<path fill="#f6e028" stroke="#f6e028" d="M417.5,74.1 L424.1,68.2 433.8,71.9 427.2,77.7Z"/>
<path fill="#f5e327" stroke="#f5e327" d="M427.2,77.7 L433.8,71.9 443.4,75.7 436.8,81.4Z"/>
<path fill="#f5e526" stroke="#f5e526" d="M436.8,81.4 L443.4,75.7 453.1,79.6 446.5,85.2Z"/>
<path fill="#f5e725" stroke="#f5e725" d="M446.5,85.2 L453.1,79.6 462.7,83.6 456.2,89.1Z"/>
<path fill="#f5e924" stroke="#f5e924" d="M456.2,89.1 L462.7,83.6 472.4,87.7 465.8,93.1Z"/>
<path fill="#f5eb23" stroke="#f5eb23" d="M465.8,93.1 L472.4,87.7 482.1,91.9 475.5,97.2Z"/>
<path fill="#f5ed22" stroke="#f5ed22" d="M475.5,97.2 L482.1,91.9 491.7,96.1 485.1,101.3Z"/>
<path fill="#f5ef21" stroke="#f5ef21" d="M485.1,101.3 L491.7,96.1 501.4,100.5 494.8,105.6Z"/>
<path fill="#f6f01f" stroke="#f6f01f" d="M494.8,105.6 L501.4,100.5 511,104.9 504.4,109.9Z"/>
<path fill="#f9d72d" stroke="#f9d72d" d="M366.2,47.9 L372.8,41.7 382.5,44.9 375.9,51.1Z"/>
<path fill="#f8da2b" stroke="#f8da2b" d="M375.9,51.1 L382.5,44.9 392.1,48.2 385.5,54.3Z"/>
<path fill="#f6de29" stroke="#f6de29" d="M385.5,54.3 L392.1,48.2 401.8,51.6 395.2,57.7Z"/>
<path fill="#f6e128" stroke="#f6e128" d="M395.2,57.7 L401.8,51.6 411.4,55 404.8,61.1Z"/>
<path fill="#f5e427" stroke="#f5e427" d="M404.8,61.1 L411.4,55 421.1,58.6 414.5,64.6Z"/>
<path fill="#f5e625" stroke="#f5e625" d="M414.5,64.6 L421.1,58.6 430.7,62.3 424.1,68.2Z"/>
<path fill="#f5e924" stroke="#f5e924" d="M424.1,68.2 L430.7,62.3 440.4,66.1 433.8,71.9Z"/>
<path fill="#f5eb23" stroke="#f5eb23" d="M433.8,71.9 L440.4,66.1 450,70 443.4,75.7Z"/>
<path fill="#f5ee21" stroke="#f5ee21" d="M443.4,75.7 L450,70 459.7,74 453.1,79.6Z"/>
<path fill="#f6f020" stroke="#f6f020" d="M453.1,79.6 L459.7,74 469.3,78.1 462.7,83.6Z"/>
<path fill="#f6f11e" stroke="#f6f11e" d="M462.7,83.6 L469.3,78.1 479,82.2 472.4,87.7Z"/>
<path fill="#f7f31d" stroke="#f7f31d" d="M472.4,87.7 L479,82.2 488.6,86.5 482.1,91.9Z"/>
<path fill="#f7f41c" stroke="#f7f41c" d="M482.1,91.9 L488.6,86.5 498.3,90.9 491.7,96.1Z"/>
<path fill="#f7f61a" stroke="#f7f61a" d="M491.7,96.1 L498.3,90.9 507.9,95.4 501.4,100.5Z"/>
<path fill="#f8f719" stroke="#f8f719" d="M501.4,100.5 L507.9,95.4 517.6,100 511,104.9Z"/>
</g>
<path d="M69.7,285.6 85.8,289.8 101.9,293.5 118,296.7 134.1,299.4 150.1,301.6 166.2,303.3 182.3,304.5 198.4,305.3 214.5,305.5 M76.3,281.5 92.4,285.7 108.5,289.4 124.6,292.6 140.6,295.4 156.7,297.6 172.8,299.4 188.9,300.7 205,301.6 221.1,301.9" stroke="#000" stroke-opacity="0.52" stroke-width="0.61" fill="none"/>
<path d="M69.7,285.6 82.9,277.4 M72.9,286.5 86.1,278.3 M76.1,287.3 89.3,279.1 M79.4,288.2 92.5,279.9 M82.6,289 95.7,280.8 M85.8,289.8 99,281.5 M89,290.6 102.2,282.3 M92.2,291.3 105.4,283.1 M95.4,292.1 108.6,283.8 M98.7,292.8 111.8,284.5 M101.9,293.5 115.1,285.2 M105.1,294.2 118.3,285.9 M108.3,294.8 121.5,286.6 M111.5,295.5 124.7,287.2 M114.7,296.1 127.9,287.9 M118,296.7 131.1,288.5 M121.2,297.3 134.4,289.1 M124.4,297.8 137.6,289.7 M127.6,298.4 140.8,290.2 M130.8,298.9 144,290.8 M134.1,299.4 147.2,291.3 M137.3,299.9 150.5,291.8 M140.5,300.3 153.7,292.3 M143.7,300.8 156.9,292.7 M146.9,301.2 160.1,293.2 M150.1,301.6 163.3,293.6 M153.4,302 166.5,294 M156.6,302.3 169.8,294.4 M159.8,302.7 173,294.8 M163,303 176.2,295.1 M166.2,303.3 179.4,295.5 M169.5,303.6 182.6,295.8 M172.7,303.9 185.8,296.1 M175.9,304.1 189.1,296.3 M179.1,304.3 192.3,296.6 M182.3,304.5 195.5,296.9 M185.5,304.7 198.7,297.1 M188.8,304.9 201.9,297.3 M192,305 205.2,297.5 M195.2,305.2 208.4,297.6 M198.4,305.3 211.6,297.8 M201.6,305.3 214.8,297.9 M204.8,305.4 218,298 M208.1,305.5 221.2,298.1 M211.3,305.5 224.5,298.2 M214.5,305.5 227.7,298.3" stroke="#000" stroke-opacity="0.52" stroke-width="0.61" fill="none"/>
<path d="M82.9,277.4 99,281.5 115.1,285.2 131.1,288.5 147.2,291.3 163.3,293.6 179.4,295.5 195.5,296.9 211.6,297.8 227.7,298.3 M89.5,273.2 105.6,277.3 121.6,281 137.7,284.3 153.8,287.1 169.9,289.5 186,291.4 202.1,292.9 218.2,294 234.3,294.6" stroke="#000" stroke-opacity="0.52" stroke-width="0.62" fill="none"/>
<path d="M82.9,277.4 96.1,268.9 M86.1,278.3 99.3,269.8 M89.3,279.1 102.5,270.6 M92.5,279.9 105.7,271.4 M95.7,280.8 108.9,272.3 M99,281.5 112.1,273.1 M102.2,282.3 115.4,273.8 M105.4,283.1 118.6,274.6 M108.6,283.8 121.8,275.3 M111.8,284.5 125,276.1 M115.1,285.2 128.2,276.8 M118.3,285.9 131.5,277.5 M121.5,286.6 134.7,278.1 M124.7,287.2 137.9,278.8 M127.9,287.9 141.1,279.4 M131.1,288.5 144.3,280.1 M134.4,289.1 147.5,280.7 M137.6,289.7 150.8,281.3 M140.8,290.2 154,281.8 M144,290.8 157.2,282.4 M147.2,291.3 160.4,282.9 M150.5,291.8 163.6,283.4 M153.7,292.3 166.8,283.9 M156.9,292.7 170.1,284.4 M160.1,293.2 173.3,284.9 M163.3,293.6 176.5,285.4 M166.5,294 179.7,285.8 M169.8,294.4 182.9,286.2 M173,294.8 186.2,286.6 M176.2,295.1 189.4,287 M179.4,295.5 192.6,287.4 M182.6,295.8 195.8,287.7 M185.8,296.1 199,288 M189.1,296.3 202.2,288.4 M192.3,296.6 205.5,288.7 M195.5,296.9 208.7,288.9 M198.7,297.1 211.9,289.2 M201.9,297.3 215.1,289.5 M205.2,297.5 218.3,289.7 M208.4,297.6 221.5,289.9 M211.6,297.8 224.8,290.1 M214.8,297.9 228,290.3 M218,298 231.2,290.4 M221.2,298.1 234.4,290.6 M224.5,298.2 237.6,290.7 M227.7,298.3 240.9,290.8" stroke="#000" stroke-opacity="0.52" stroke-width="0.63" fill="none"/>
<path d="M96.1,268.9 112.1,273.1 128.2,276.8 144.3,280.1 160.4,282.9 176.5,285.4 192.6,287.4 208.7,288.9 224.8,290.1 240.9,290.8 M102.6,264.6 118.7,268.7 134.8,272.4 150.9,275.7 167,278.7 183.1,281.1 199.2,283.2 215.3,284.9 231.4,286.2 247.4,287" stroke="#000" stroke-opacity="0.52" stroke-width="0.63" fill="none"/>
<path d="M96.1,268.9 109.2,260.2 M99.3,269.8 112.5,261 M102.5,270.6 115.7,261.9 M105.7,271.4 118.9,262.7 M108.9,272.3 122.1,263.5 M112.1,273.1 125.3,264.3 M115.4,273.8 128.5,265.1 M118.6,274.6 131.8,265.8 M121.8,275.3 135,266.6 M125,276.1 138.2,267.3 M128.2,276.8 141.4,268 M131.5,277.5 144.6,268.7 M134.7,278.1 147.8,269.4 M137.9,278.8 151.1,270.1 M141.1,279.4 154.3,270.7 M144.3,280.1 157.5,271.4 M147.5,280.7 160.7,272 M150.8,281.3 163.9,272.6 M154,281.8 167.2,273.2 M157.2,282.4 170.4,273.8 M160.4,282.9 173.6,274.3 M163.6,283.4 176.8,274.9 M166.8,283.9 180,275.4 M170.1,284.4 183.2,275.9 M173.3,284.9 186.5,276.4 M176.5,285.4 189.7,276.9 M179.7,285.8 192.9,277.3 M182.9,286.2 196.1,277.8 M186.2,286.6 199.3,278.2 M189.4,287 202.6,278.6 M192.6,287.4 205.8,279 M195.8,287.7 209,279.4 M199,288 212.2,279.8 M202.2,288.4 215.4,280.2 M205.5,288.7 218.6,280.5 M208.7,288.9 221.9,280.8 M211.9,289.2 225.1,281.1 M215.1,289.5 228.3,281.4 M218.3,289.7 231.5,281.7 M221.5,289.9 234.7,281.9 M224.8,290.1 237.9,282.2 M228,290.3 241.2,282.4 M231.2,290.4 244.4,282.6 M234.4,290.6 247.6,282.8 M237.6,290.7 250.8,283 M240.9,290.8 254,283.2" stroke="#000" stroke-opacity="0.52" stroke-width="0.65" fill="none"/>
<path d="M109.2,260.2 125.3,264.3 141.4,268 157.5,271.4 173.6,274.3 189.7,276.9 205.8,279 221.9,280.8 237.9,282.2 254,283.2 M115.8,255.7 131.9,259.8 148,263.6 164.1,267 180.2,269.9 196.3,272.6 212.4,274.8 228.4,276.7 244.5,278.2 260.6,279.3" stroke="#000" stroke-opacity="0.52" stroke-width="0.64" fill="none"/>
<path d="M109.2,260.2 122.4,251.2 M112.5,261 125.6,252 M115.7,261.9 128.8,252.9 M118.9,262.7 132.1,253.7 M122.1,263.5 135.3,254.5 M125.3,264.3 138.5,255.3 M128.5,265.1 141.7,256.1 M131.8,265.8 144.9,256.9 M135,266.6 148.2,257.6 M138.2,267.3 151.4,258.3 M141.4,268 154.6,259.1 M144.6,268.7 157.8,259.8 M147.8,269.4 161,260.5 M151.1,270.1 164.2,261.1 M154.3,270.7 167.5,261.8 M157.5,271.4 170.7,262.5 M160.7,272 173.9,263.1 M163.9,272.6 177.1,263.7 M167.2,273.2 180.3,264.3 M170.4,273.8 183.6,264.9 M173.6,274.3 186.8,265.5 M176.8,274.9 190,266.1 M180,275.4 193.2,266.6 M183.2,275.9 196.4,267.2 M186.5,276.4 199.6,267.7 M189.7,276.9 202.9,268.2 M192.9,277.3 206.1,268.7 M196.1,277.8 209.3,269.2 M199.3,278.2 212.5,269.6 M202.6,278.6 215.7,270.1 M205.8,279 218.9,270.5 M209,279.4 222.2,270.9 M212.2,279.8 225.4,271.3 M215.4,280.2 228.6,271.7 M218.6,280.5 231.8,272.1 M221.9,280.8 235,272.5 M225.1,281.1 238.3,272.8 M228.3,281.4 241.5,273.2 M231.5,281.7 244.7,273.5 M234.7,281.9 247.9,273.8 M237.9,282.2 251.1,274.1 M241.2,282.4 254.3,274.4 M244.4,282.6 257.6,274.6 M247.6,282.8 260.8,274.9 M250.8,283 264,275.1 M254,283.2 267.2,275.3" stroke="#000" stroke-opacity="0.52" stroke-width="0.68" fill="none"/>
<path d="M122.4,251.2 138.5,255.3 154.6,259.1 170.7,262.5 186.8,265.5 202.9,268.2 218.9,270.5 235,272.5 251.1,274.1 267.2,275.3 M129,246.6 145.1,250.7 161.2,254.5 177.3,257.9 193.4,261 209.4,263.8 225.5,266.2 241.6,268.2 257.7,269.9 273.8,271.3" stroke="#000" stroke-opacity="0.52" stroke-width="0.65" fill="none"/>
<path d="M122.4,251.2 135.6,242 M125.6,252 138.8,242.8 M128.8,252.9 142,243.6 M132.1,253.7 145.2,244.5 M135.3,254.5 148.5,245.3 M138.5,255.3 151.7,246.1 M141.7,256.1 154.9,246.9 M144.9,256.9 158.1,247.6 M148.2,257.6 161.3,248.4 M151.4,258.3 164.6,249.1 M154.6,259.1 167.8,249.9 M157.8,259.8 171,250.6 M161,260.5 174.2,251.3 M164.2,261.1 177.4,252 M167.5,261.8 180.6,252.7 M170.7,262.5 183.9,253.3 M173.9,263.1 187.1,254 M177.1,263.7 190.3,254.6 M180.3,264.3 193.5,255.2 M183.6,264.9 196.7,255.9 M186.8,265.5 199.9,256.5 M190,266.1 203.2,257.1 M193.2,266.6 206.4,257.6 M196.4,267.2 209.6,258.2 M199.6,267.7 212.8,258.7 M202.9,268.2 216,259.3 M206.1,268.7 219.3,259.8 M209.3,269.2 222.5,260.3 M212.5,269.6 225.7,260.8 M215.7,270.1 228.9,261.3 M218.9,270.5 232.1,261.8 M222.2,270.9 235.3,262.2 M225.4,271.3 238.6,262.7 M228.6,271.7 241.8,263.1 M231.8,272.1 245,263.5 M235,272.5 248.2,263.9 M238.3,272.8 251.4,264.3 M241.5,273.2 254.6,264.7 M244.7,273.5 257.9,265.1 M247.9,273.8 261.1,265.4 M251.1,274.1 264.3,265.8 M254.3,274.4 267.5,266.1 M257.6,274.6 270.7,266.4 M260.8,274.9 274,266.7 M264,275.1 277.2,267 M267.2,275.3 280.4,267.3" stroke="#000" stroke-opacity="0.52" stroke-width="0.70" fill="none"/>
<path d="M135.6,242 151.7,246.1 167.8,249.9 183.9,253.3 199.9,256.5 216,259.3 232.1,261.8 248.2,263.9 264.3,265.8 280.4,267.3 M142.2,237.2 158.3,241.4 174.4,245.2 190.4,248.7 206.5,251.9 222.6,254.7 238.7,257.3 254.8,259.6 270.9,261.5 287,263.2" stroke="#000" stroke-opacity="0.52" stroke-width="0.66" fill="none"/>
<path d="M135.6,242 148.8,232.5 M138.8,242.8 152,233.3 M142,243.6 155.2,234.2 M145.2,244.5 158.4,235 M148.5,245.3 161.6,235.8 M151.7,246.1 164.9,236.6 M154.9,246.9 168.1,237.4 M158.1,247.6 171.3,238.2 M161.3,248.4 174.5,238.9 M164.6,249.1 177.7,239.7 M167.8,249.9 180.9,240.4 M171,250.6 184.2,241.2 M174.2,251.3 187.4,241.9 M177.4,252 190.6,242.6 M180.6,252.7 193.8,243.3 M183.9,253.3 197,244 M187.1,254 200.3,244.6 M190.3,254.6 203.5,245.3 M193.5,255.2 206.7,245.9 M196.7,255.9 209.9,246.6 M199.9,256.5 213.1,247.2 M203.2,257.1 216.3,247.8 M206.4,257.6 219.6,248.4 M209.6,258.2 222.8,249 M212.8,258.7 226,249.6 M216,259.3 229.2,250.2 M219.3,259.8 232.4,250.7 M222.5,260.3 235.6,251.3 M225.7,260.8 238.9,251.8 M228.9,261.3 242.1,252.3 M232.1,261.8 245.3,252.8 M235.3,262.2 248.5,253.3 M238.6,262.7 251.7,253.8 M241.8,263.1 255,254.3 M245,263.5 258.2,254.7 M248.2,263.9 261.4,255.2 M251.4,264.3 264.6,255.6 M254.6,264.7 267.8,256 M257.9,265.1 271,256.5 M261.1,265.4 274.3,256.9 M264.3,265.8 277.5,257.3 M267.5,266.1 280.7,257.6 M270.7,266.4 283.9,258 M274,266.7 287.1,258.4 M277.2,267 290.4,258.7 M280.4,267.3 293.6,259" stroke="#000" stroke-opacity="0.52" stroke-width="0.72" fill="none"/>
<path d="M148.8,232.5 164.9,236.6 180.9,240.4 197,244 213.1,247.2 229.2,250.2 245.3,252.8 261.4,255.2 277.5,257.3 293.6,259 M155.4,227.7 171.4,231.8 187.5,235.6 203.6,239.2 219.7,242.5 235.8,245.5 251.9,248.3 268,250.7 284.1,252.9 300.2,254.8" stroke="#000" stroke-opacity="0.53" stroke-width="0.67" fill="none"/>
<path d="M148.8,232.5 161.9,222.8 M152,233.3 165.2,223.6 M155.2,234.2 168.4,224.5 M158.4,235 171.6,225.3 M161.6,235.8 174.8,226.1 M164.9,236.6 178,226.9 M168.1,237.4 181.3,227.7 M171.3,238.2 184.5,228.5 M174.5,238.9 187.7,229.3 M177.7,239.7 190.9,230 M180.9,240.4 194.1,230.8 M184.2,241.2 197.3,231.5 M187.4,241.9 200.6,232.3 M190.6,242.6 203.8,233 M193.8,243.3 207,233.7 M197,244 210.2,234.4 M200.3,244.6 213.4,235.1 M203.5,245.3 216.7,235.8 M206.7,245.9 219.9,236.4 M209.9,246.6 223.1,237.1 M213.1,247.2 226.3,237.7 M216.3,247.8 229.5,238.4 M219.6,248.4 232.7,239 M222.8,249 236,239.6 M226,249.6 239.2,240.2 M229.2,250.2 242.4,240.8 M232.4,250.7 245.6,241.4 M235.6,251.3 248.8,242 M238.9,251.8 252,242.6 M242.1,252.3 255.3,243.1 M245.3,252.8 258.5,243.7 M248.5,253.3 261.7,244.2 M251.7,253.8 264.9,244.7 M255,254.3 268.1,245.2 M258.2,254.7 271.4,245.8 M261.4,255.2 274.6,246.2 M264.6,255.6 277.8,246.7 M267.8,256 281,247.2 M271,256.5 284.2,247.7 M274.3,256.9 287.4,248.1 M277.5,257.3 290.7,248.6 M280.7,257.6 293.9,249 M283.9,258 297.1,249.4 M287.1,258.4 300.3,249.8 M290.4,258.7 303.5,250.2 M293.6,259 306.7,250.6" stroke="#000" stroke-opacity="0.53" stroke-width="0.74" fill="none"/>
<path d="M161.9,222.8 178,226.9 194.1,230.8 210.2,234.4 226.3,237.7 242.4,240.8 258.5,243.7 274.6,246.2 290.7,248.6 306.7,250.6 M168.5,217.8 184.6,222 200.7,225.9 216.8,229.5 232.9,232.9 249,236.1 265.1,239 281.2,241.7 297.2,244.2 313.3,246.4" stroke="#000" stroke-opacity="0.53" stroke-width="0.68" fill="none"/>
<path d="M161.9,222.8 175.1,212.9 M165.2,223.6 178.3,213.7 M168.4,224.5 181.6,214.5 M171.6,225.3 184.8,215.4 M174.8,226.1 188,216.2 M178,226.9 191.2,217 M181.3,227.7 194.4,217.8 M184.5,228.5 197.7,218.6 M187.7,229.3 200.9,219.4 M190.9,230 204.1,220.2 M194.1,230.8 207.3,220.9 M197.3,231.5 210.5,221.7 M200.6,232.3 213.7,222.4 M203.8,233 217,223.2 M207,233.7 220.2,223.9 M210.2,234.4 223.4,224.6 M213.4,235.1 226.6,225.3 M216.7,235.8 229.8,226 M219.9,236.4 233,226.7 M223.1,237.1 236.3,227.4 M226.3,237.7 239.5,228.1 M229.5,238.4 242.7,228.8 M232.7,239 245.9,229.4 M236,239.6 249.1,230.1 M239.2,240.2 252.4,230.7 M242.4,240.8 255.6,231.3 M245.6,241.4 258.8,232 M248.8,242 262,232.6 M252,242.6 265.2,233.2 M255.3,243.1 268.4,233.8 M258.5,243.7 271.7,234.3 M261.7,244.2 274.9,234.9 M264.9,244.7 278.1,235.5 M268.1,245.2 281.3,236 M271.4,245.8 284.5,236.6 M274.6,246.2 287.7,237.1 M277.8,246.7 291,237.7 M281,247.2 294.2,238.2 M284.2,247.7 297.4,238.7 M287.4,248.1 300.6,239.2 M290.7,248.6 303.8,239.7 M293.9,249 307.1,240.2 M297.1,249.4 310.3,240.7 M300.3,249.8 313.5,241.1 M303.5,250.2 316.7,241.6 M306.7,250.6 319.9,242" stroke="#000" stroke-opacity="0.53" stroke-width="0.76" fill="none"/>
<path d="M175.1,212.9 191.2,217 207.3,220.9 223.4,224.6 239.5,228.1 255.6,231.3 271.7,234.3 287.7,237.1 303.8,239.7 319.9,242 M181.7,207.8 197.8,212 213.9,215.9 230,219.7 246.1,223.2 262.2,226.5 278.2,229.6 294.3,232.5 310.4,235.2 326.5,237.7" stroke="#000" stroke-opacity="0.53" stroke-width="0.69" fill="none"/>
<path d="M175.1,212.9 188.3,202.7 M178.3,213.7 191.5,203.6 M181.6,214.5 194.7,204.4 M184.8,215.4 198,205.2 M188,216.2 201.2,206.1 M191.2,217 204.4,206.9 M194.4,217.8 207.6,207.7 M197.7,218.6 210.8,208.5 M200.9,219.4 214,209.3 M204.1,220.2 217.3,210.1 M207.3,220.9 220.5,210.9 M210.5,221.7 223.7,211.6 M213.7,222.4 226.9,212.4 M217,223.2 230.1,213.2 M220.2,223.9 233.4,213.9 M223.4,224.6 236.6,214.6 M226.6,225.3 239.8,215.4 M229.8,226 243,216.1 M233,226.7 246.2,216.8 M236.3,227.4 249.4,217.5 M239.5,228.1 252.7,218.2 M242.7,228.8 255.9,218.9 M245.9,229.4 259.1,219.6 M249.1,230.1 262.3,220.3 M252.4,230.7 265.5,221 M255.6,231.3 268.7,221.6 M258.8,232 272,222.3 M262,232.6 275.2,222.9 M265.2,233.2 278.4,223.6 M268.4,233.8 281.6,224.2 M271.7,234.3 284.8,224.8 M274.9,234.9 288.1,225.5 M278.1,235.5 291.3,226.1 M281.3,236 294.5,226.7 M284.5,236.6 297.7,227.3 M287.7,237.1 300.9,227.9 M291,237.7 304.1,228.4 M294.2,238.2 307.4,229 M297.4,238.7 310.6,229.6 M300.6,239.2 313.8,230.1 M303.8,239.7 317,230.7 M307.1,240.2 320.2,231.2 M310.3,240.7 323.5,231.8 M313.5,241.1 326.7,232.3 M316.7,241.6 329.9,232.8 M319.9,242 333.1,233.3" stroke="#000" stroke-opacity="0.53" stroke-width="0.78" fill="none"/>
<path d="M188.3,202.7 204.4,206.9 220.5,210.9 236.6,214.6 252.7,218.2 268.7,221.6 284.8,224.8 300.9,227.9 317,230.7 333.1,233.3 M194.9,197.6 211,201.7 227.1,205.8 243.2,209.6 259.2,213.2 275.3,216.7 291.4,220 307.5,223.2 323.6,226.1 339.7,228.9" stroke="#000" stroke-opacity="0.54" stroke-width="0.70" fill="none"/>
<path d="M188.3,202.7 201.5,192.4 M191.5,203.6 204.7,193.2 M194.7,204.4 207.9,194.1 M198,205.2 211.1,194.9 M201.2,206.1 214.4,195.7 M204.4,206.9 217.6,196.6 M207.6,207.7 220.8,197.4 M210.8,208.5 224,198.2 M214,209.3 227.2,199 M217.3,210.1 230.4,199.8 M220.5,210.9 233.7,200.6 M223.7,211.6 236.9,201.4 M226.9,212.4 240.1,202.2 M230.1,213.2 243.3,202.9 M233.4,213.9 246.5,203.7 M236.6,214.6 249.7,204.5 M239.8,215.4 253,205.2 M243,216.1 256.2,206 M246.2,216.8 259.4,206.7 M249.4,217.5 262.6,207.5 M252.7,218.2 265.8,208.2 M255.9,218.9 269.1,208.9 M259.1,219.6 272.3,209.6 M262.3,220.3 275.5,210.4 M265.5,221 278.7,211.1 M268.7,221.6 281.9,211.8 M272,222.3 285.1,212.5 M275.2,222.9 288.4,213.1 M278.4,223.6 291.6,213.8 M281.6,224.2 294.8,214.5 M284.8,224.8 298,215.2 M288.1,225.5 301.2,215.8 M291.3,226.1 304.5,216.5 M294.5,226.7 307.7,217.1 M297.7,227.3 310.9,217.8 M300.9,227.9 314.1,218.4 M304.1,228.4 317.3,219 M307.4,229 320.5,219.7 M310.6,229.6 323.8,220.3 M313.8,230.1 327,220.9 M317,230.7 330.2,221.5 M320.2,231.2 333.4,222.1 M323.5,231.8 336.6,222.7 M326.7,232.3 339.8,223.3 M329.9,232.8 343.1,223.9 M333.1,233.3 346.3,224.4" stroke="#000" stroke-opacity="0.54" stroke-width="0.81" fill="none"/>
<path d="M201.5,192.4 217.6,196.6 233.7,200.6 249.7,204.5 265.8,208.2 281.9,211.8 298,215.2 314.1,218.4 330.2,221.5 346.3,224.4 M208.1,187.1 224.2,191.3 240.2,195.4 256.3,199.3 272.4,203.1 288.5,206.8 304.6,210.3 320.7,213.6 336.8,216.9 352.9,219.9" stroke="#000" stroke-opacity="0.55" stroke-width="0.71" fill="none"/>
<path d="M201.5,192.4 214.7,181.8 M204.7,193.2 217.9,182.7 M207.9,194.1 221.1,183.5 M211.1,194.9 224.3,184.4 M214.4,195.7 227.5,185.2 M217.6,196.6 230.7,186 M220.8,197.4 234,186.9 M224,198.2 237.2,187.7 M227.2,199 240.4,188.5 M230.4,199.8 243.6,189.3 M233.7,200.6 246.8,190.1 M236.9,201.4 250.1,191 M240.1,202.2 253.3,191.8 M243.3,202.9 256.5,192.6 M246.5,203.7 259.7,193.3 M249.7,204.5 262.9,194.1 M253,205.2 266.1,194.9 M256.2,206 269.4,195.7 M259.4,206.7 272.6,196.5 M262.6,207.5 275.8,197.2 M265.8,208.2 279,198 M269.1,208.9 282.2,198.8 M272.3,209.6 285.5,199.5 M275.5,210.4 288.7,200.3 M278.7,211.1 291.9,201 M281.9,211.8 295.1,201.7 M285.1,212.5 298.3,202.5 M288.4,213.1 301.5,203.2 M291.6,213.8 304.8,203.9 M294.8,214.5 308,204.6 M298,215.2 311.2,205.3 M301.2,215.8 314.4,206 M304.5,216.5 317.6,206.8 M307.7,217.1 320.8,207.4 M310.9,217.8 324.1,208.1 M314.1,218.4 327.3,208.8 M317.3,219 330.5,209.5 M320.5,219.7 333.7,210.2 M323.8,220.3 336.9,210.9 M327,220.9 340.2,211.5 M330.2,221.5 343.4,212.2 M333.4,222.1 346.6,212.8 M336.6,222.7 349.8,213.5 M339.8,223.3 353,214.1 M343.1,223.9 356.2,214.8 M346.3,224.4 359.5,215.4" stroke="#000" stroke-opacity="0.55" stroke-width="0.83" fill="none"/>
<path d="M214.7,181.8 230.7,186 246.8,190.1 262.9,194.1 279,198 295.1,201.7 311.2,205.3 327.3,208.8 343.4,212.2 359.5,215.4 M221.2,176.4 237.3,180.7 253.4,184.9 269.5,188.9 285.6,192.8 301.7,196.7 317.8,200.4 333.9,204 350,207.5 366.1,210.9" stroke="#000" stroke-opacity="0.56" stroke-width="0.72" fill="none"/>
<path d="M214.7,181.8 227.8,171 M217.9,182.7 231.1,171.9 M221.1,183.5 234.3,172.8 M224.3,184.4 237.5,173.6 M227.5,185.2 240.7,174.5 M230.7,186 243.9,175.3 M234,186.9 247.1,176.2 M237.2,187.7 250.4,177 M240.4,188.5 253.6,177.8 M243.6,189.3 256.8,178.7 M246.8,190.1 260,179.5 M250.1,191 263.2,180.3 M253.3,191.8 266.5,181.2 M256.5,192.6 269.7,182 M259.7,193.3 272.9,182.8 M262.9,194.1 276.1,183.6 M266.1,194.9 279.3,184.4 M269.4,195.7 282.5,185.2 M272.6,196.5 285.8,186 M275.8,197.2 289,186.8 M279,198 292.2,187.6 M282.2,198.8 295.4,188.4 M285.5,199.5 298.6,189.2 M288.7,200.3 301.8,190 M291.9,201 305.1,190.8 M295.1,201.7 308.3,191.5 M298.3,202.5 311.5,192.3 M301.5,203.2 314.7,193.1 M304.8,203.9 317.9,193.8 M308,204.6 321.2,194.6 M311.2,205.3 324.4,195.4 M314.4,206 327.6,196.1 M317.6,206.8 330.8,196.9 M320.8,207.4 334,197.6 M324.1,208.1 337.2,198.4 M327.3,208.8 340.5,199.1 M330.5,209.5 343.7,199.8 M333.7,210.2 346.9,200.6 M336.9,210.9 350.1,201.3 M340.2,211.5 353.3,202 M343.4,212.2 356.6,202.7 M346.6,212.8 359.8,203.4 M349.8,213.5 363,204.2 M353,214.1 366.2,204.9 M356.2,214.8 369.4,205.6 M359.5,215.4 372.6,206.3" stroke="#000" stroke-opacity="0.56" stroke-width="0.85" fill="none"/>
<path d="M227.8,171 243.9,175.3 260,179.5 276.1,183.6 292.2,187.6 308.3,191.5 324.4,195.4 340.5,199.1 356.6,202.7 372.6,206.3 M234.4,165.6 250.5,169.9 266.6,174.1 282.7,178.3 298.8,182.4 314.9,186.4 331,190.3 347.1,194.2 363.1,198 379.2,201.7" stroke="#000" stroke-opacity="0.56" stroke-width="0.74" fill="none"/>
<path d="M227.8,171 241,160.1 M231.1,171.9 244.2,161 M234.3,172.8 247.5,161.8 M237.5,173.6 250.7,162.7 M240.7,174.5 253.9,163.6 M243.9,175.3 257.1,164.4 M247.1,176.2 260.3,165.3 M250.4,177 263.5,166.1 M253.6,177.8 266.8,167 M256.8,178.7 270,167.9 M260,179.5 273.2,168.7 M263.2,180.3 276.4,169.6 M266.5,181.2 279.6,170.4 M269.7,182 282.8,171.2 M272.9,182.8 286.1,172.1 M276.1,183.6 289.3,172.9 M279.3,184.4 292.5,173.8 M282.5,185.2 295.7,174.6 M285.8,186 298.9,175.4 M289,186.8 302.2,176.3 M292.2,187.6 305.4,177.1 M295.4,188.4 308.6,177.9 M298.6,189.2 311.8,178.7 M301.8,190 315,179.6 M305.1,190.8 318.2,180.4 M308.3,191.5 321.5,181.2 M311.5,192.3 324.7,182 M314.7,193.1 327.9,182.8 M317.9,193.8 331.1,183.6 M321.2,194.6 334.3,184.4 M324.4,195.4 337.6,185.2 M327.6,196.1 340.8,186 M330.8,196.9 344,186.8 M334,197.6 347.2,187.6 M337.2,198.4 350.4,188.4 M340.5,199.1 353.6,189.2 M343.7,199.8 356.9,190 M346.9,200.6 360.1,190.8 M350.1,201.3 363.3,191.6 M353.3,202 366.5,192.4 M356.6,202.7 369.7,193.2 M359.8,203.4 372.9,193.9 M363,204.2 376.2,194.7 M366.2,204.9 379.4,195.5 M369.4,205.6 382.6,196.3 M372.6,206.3 385.8,197" stroke="#000" stroke-opacity="0.56" stroke-width="0.87" fill="none"/>
<path d="M241,160.1 257.1,164.4 273.2,168.7 289.3,172.9 305.4,177.1 321.5,181.2 337.6,185.2 353.6,189.2 369.7,193.2 385.8,197 M247.6,154.6 263.7,158.9 279.8,163.2 295.9,167.5 312,171.8 328.1,176 344.1,180.1 360.2,184.2 376.3,188.3 392.4,192.3" stroke="#000" stroke-opacity="0.58" stroke-width="0.75" fill="none"/>
<path d="M241,160.1 254.2,149 M244.2,161 257.4,149.8 M247.5,161.8 260.6,150.7 M250.7,162.7 263.8,151.6 M253.9,163.6 267.1,152.5 M257.1,164.4 270.3,153.4 M260.3,165.3 273.5,154.2 M263.5,166.1 276.7,155.1 M266.8,167 279.9,156 M270,167.9 283.2,156.9 M273.2,168.7 286.4,157.7 M276.4,169.6 289.6,158.6 M279.6,170.4 292.8,159.5 M282.8,171.2 296,160.3 M286.1,172.1 299.2,161.2 M289.3,172.9 302.5,162.1 M292.5,173.8 305.7,163 M295.7,174.6 308.9,163.8 M298.9,175.4 312.1,164.7 M302.2,176.3 315.3,165.5 M305.4,177.1 318.6,166.4 M308.6,177.9 321.8,167.3 M311.8,178.7 325,168.1 M315,179.6 328.2,169 M318.2,180.4 331.4,169.8 M321.5,181.2 334.6,170.7 M324.7,182 337.9,171.6 M327.9,182.8 341.1,172.4 M331.1,183.6 344.3,173.3 M334.3,184.4 347.5,174.1 M337.6,185.2 350.7,175 M340.8,186 353.9,175.8 M344,186.8 357.2,176.7 M347.2,187.6 360.4,177.5 M350.4,188.4 363.6,178.4 M353.6,189.2 366.8,179.2 M356.9,190 370,180.1 M360.1,190.8 373.3,180.9 M363.3,191.6 376.5,181.8 M366.5,192.4 379.7,182.6 M369.7,193.2 382.9,183.5 M372.9,193.9 386.1,184.3 M376.2,194.7 389.3,185.1 M379.4,195.5 392.6,186 M382.6,196.3 395.8,186.8 M385.8,197 399,187.7" stroke="#000" stroke-opacity="0.58" stroke-width="0.89" fill="none"/>
<path d="M254.2,149 270.3,153.4 286.4,157.7 302.5,162.1 318.6,166.4 334.6,170.7 350.7,175 366.8,179.2 382.9,183.5 399,187.7 M260.8,143.3 276.9,147.8 293,152.2 309.1,156.6 325.1,161 341.2,165.4 357.3,169.8 373.4,174.2 389.5,178.6 405.6,182.9" stroke="#000" stroke-opacity="0.59" stroke-width="0.76" fill="none"/>
<path d="M254.2,149 267.4,137.7 M257.4,149.8 270.6,138.6 M260.6,150.7 273.8,139.4 M263.8,151.6 277,140.3 M267.1,152.5 280.2,141.2 M270.3,153.4 283.5,142.1 M273.5,154.2 286.7,143 M276.7,155.1 289.9,143.9 M279.9,156 293.1,144.8 M283.2,156.9 296.3,145.7 M286.4,157.7 299.6,146.6 M289.6,158.6 302.8,147.5 M292.8,159.5 306,148.4 M296,160.3 309.2,149.3 M299.2,161.2 312.4,150.2 M302.5,162.1 315.6,151.1 M305.7,163 318.9,152 M308.9,163.8 322.1,152.9 M312.1,164.7 325.3,153.8 M315.3,165.5 328.5,154.7 M318.6,166.4 331.7,155.6 M321.8,167.3 334.9,156.5 M325,168.1 338.2,157.4 M328.2,169 341.4,158.3 M331.4,169.8 344.6,159.2 M334.6,170.7 347.8,160.1 M337.9,171.6 351,161 M341.1,172.4 354.3,161.9 M344.3,173.3 357.5,162.8 M347.5,174.1 360.7,163.7 M350.7,175 363.9,164.6 M353.9,175.8 367.1,165.5 M357.2,176.7 370.3,166.4 M360.4,177.5 373.6,167.3 M363.6,178.4 376.8,168.2 M366.8,179.2 380,169.1 M370,180.1 383.2,170 M373.3,180.9 386.4,170.9 M376.5,181.8 389.6,171.8 M379.7,182.6 392.9,172.7 M382.9,183.5 396.1,173.6 M386.1,184.3 399.3,174.6 M389.3,185.1 402.5,175.5 M392.6,186 405.7,176.4 M395.8,186.8 409,177.3 M399,187.7 412.2,178.2" stroke="#000" stroke-opacity="0.59" stroke-width="0.92" fill="none"/>
<path d="M267.4,137.7 283.5,142.1 299.6,146.6 315.6,151.1 331.7,155.6 347.8,160.1 363.9,164.6 380,169.1 396.1,173.6 412.2,178.2 M274,131.9 290.1,136.5 306.1,141 322.2,145.5 338.3,150.1 354.4,154.7 370.5,159.4 386.6,164 402.7,168.7 418.8,173.4" stroke="#000" stroke-opacity="0.61" stroke-width="0.77" fill="none"/>
<path d="M267.4,137.7 280.6,126.2 M270.6,138.6 283.8,127.1 M273.8,139.4 287,128 M277,140.3 290.2,128.9 M280.2,141.2 293.4,129.8 M283.5,142.1 296.6,130.7 M286.7,143 299.9,131.6 M289.9,143.9 303.1,132.6 M293.1,144.8 306.3,133.5 M296.3,145.7 309.5,134.4 M299.6,146.6 312.7,135.3 M302.8,147.5 315.9,136.2 M306,148.4 319.2,137.2 M309.2,149.3 322.4,138.1 M312.4,150.2 325.6,139 M315.6,151.1 328.8,140 M318.9,152 332,140.9 M322.1,152.9 335.3,141.8 M325.3,153.8 338.5,142.8 M328.5,154.7 341.7,143.7 M331.7,155.6 344.9,144.6 M334.9,156.5 348.1,145.6 M338.2,157.4 351.3,146.5 M341.4,158.3 354.6,147.5 M344.6,159.2 357.8,148.4 M347.8,160.1 361,149.3 M351,161 364.2,150.3 M354.3,161.9 367.4,151.2 M357.5,162.8 370.6,152.2 M360.7,163.7 373.9,153.1 M363.9,164.6 377.1,154.1 M367.1,165.5 380.3,155.1 M370.3,166.4 383.5,156 M373.6,167.3 386.7,157 M376.8,168.2 390,157.9 M380,169.1 393.2,158.9 M383.2,170 396.4,159.9 M386.4,170.9 399.6,160.8 M389.6,171.8 402.8,161.8 M392.9,172.7 406,162.8 M396.1,173.6 409.3,163.7 M399.3,174.6 412.5,164.7 M402.5,175.5 415.7,165.7 M405.7,176.4 418.9,166.7 M409,177.3 422.1,167.6 M412.2,178.2 425.4,168.6" stroke="#000" stroke-opacity="0.61" stroke-width="0.94" fill="none"/>
<path d="M280.6,126.2 296.6,130.7 312.7,135.3 328.8,140 344.9,144.6 361,149.3 377.1,154.1 393.2,158.9 409.3,163.7 425.4,168.6 M287.1,120.4 303.2,125 319.3,129.6 335.4,134.3 351.5,139.1 367.6,143.9 383.7,148.8 399.8,153.8 415.9,158.8 431.9,163.8" stroke="#000" stroke-opacity="0.62" stroke-width="0.78" fill="none"/>
<path d="M280.6,126.2 293.7,114.5 M283.8,127.1 296.9,115.5 M287,128 300.2,116.4 M290.2,128.9 303.4,117.3 M293.4,129.8 306.6,118.3 M296.6,130.7 309.8,119.2 M299.9,131.6 313,120.1 M303.1,132.6 316.3,121.1 M306.3,133.5 319.5,122 M309.5,134.4 322.7,122.9 M312.7,135.3 325.9,123.9 M315.9,136.2 329.1,124.8 M319.2,137.2 332.3,125.8 M322.4,138.1 335.6,126.8 M325.6,139 338.8,127.7 M328.8,140 342,128.7 M332,140.9 345.2,129.6 M335.3,141.8 348.4,130.6 M338.5,142.8 351.7,131.6 M341.7,143.7 354.9,132.6 M344.9,144.6 358.1,133.5 M348.1,145.6 361.3,134.5 M351.3,146.5 364.5,135.5 M354.6,147.5 367.7,136.5 M357.8,148.4 371,137.5 M361,149.3 374.2,138.5 M364.2,150.3 377.4,139.5 M367.4,151.2 380.6,140.5 M370.6,152.2 383.8,141.5 M373.9,153.1 387,142.5 M377.1,154.1 390.3,143.5 M380.3,155.1 393.5,144.5 M383.5,156 396.7,145.5 M386.7,157 399.9,146.5 M390,157.9 403.1,147.6 M393.2,158.9 406.4,148.6 M396.4,159.9 409.6,149.6 M399.6,160.8 412.8,150.6 M402.8,161.8 416,151.7 M406,162.8 419.2,152.7 M409.3,163.7 422.4,153.7 M412.5,164.7 425.7,154.8 M415.7,165.7 428.9,155.8 M418.9,166.7 432.1,156.9 M422.1,167.6 435.3,157.9 M425.4,168.6 438.5,159" stroke="#000" stroke-opacity="0.62" stroke-width="0.96" fill="none"/>
<path d="M293.7,114.5 309.8,119.2 325.9,123.9 342,128.7 358.1,133.5 374.2,138.5 390.3,143.5 406.4,148.6 422.4,153.7 438.5,159 M300.3,108.7 316.4,113.4 332.5,118.1 348.6,123 364.7,128 380.8,133 396.9,138.2 412.9,143.4 429,148.7 445.1,154.1" stroke="#000" stroke-opacity="0.64" stroke-width="0.79" fill="none"/>
<path d="M293.7,114.5 306.9,102.8 M296.9,115.5 310.1,103.7 M300.2,116.4 313.3,104.6 M303.4,117.3 316.6,105.6 M306.6,118.3 319.8,106.5 M309.8,119.2 323,107.5 M313,120.1 326.2,108.4 M316.3,121.1 329.4,109.4 M319.5,122 332.7,110.4 M322.7,122.9 335.9,111.4 M325.9,123.9 339.1,112.3 M329.1,124.8 342.3,113.3 M332.3,125.8 345.5,114.3 M335.6,126.8 348.7,115.3 M338.8,127.7 352,116.3 M342,128.7 355.2,117.3 M345.2,129.6 358.4,118.3 M348.4,130.6 361.6,119.3 M351.7,131.6 364.8,120.3 M354.9,132.6 368,121.3 M358.1,133.5 371.3,122.3 M361.3,134.5 374.5,123.4 M364.5,135.5 377.7,124.4 M367.7,136.5 380.9,125.4 M371,137.5 384.1,126.5 M374.2,138.5 387.4,127.5 M377.4,139.5 390.6,128.6 M380.6,140.5 393.8,129.6 M383.8,141.5 397,130.7 M387,142.5 400.2,131.7 M390.3,143.5 403.4,132.8 M393.5,144.5 406.7,133.9 M396.7,145.5 409.9,134.9 M399.9,146.5 413.1,136 M403.1,147.6 416.3,137.1 M406.4,148.6 419.5,138.2 M409.6,149.6 422.7,139.3 M412.8,150.6 426,140.4 M416,151.7 429.2,141.5 M419.2,152.7 432.4,142.6 M422.4,153.7 435.6,143.7 M425.7,154.8 438.8,144.8 M428.9,155.8 442.1,145.9 M432.1,156.9 445.3,147 M435.3,157.9 448.5,148.1 M438.5,159 451.7,149.3" stroke="#000" stroke-opacity="0.64" stroke-width="0.98" fill="none"/>
<path d="M306.9,102.8 323,107.5 339.1,112.3 355.2,117.3 371.3,122.3 387.4,127.5 403.4,132.8 419.5,138.2 435.6,143.7 451.7,149.3 M313.5,96.8 329.6,101.6 345.7,106.5 361.8,111.5 377.9,116.7 393.9,122 410,127.4 426.1,132.9 442.2,138.6 458.3,144.4" stroke="#000" stroke-opacity="0.67" stroke-width="0.80" fill="none"/>
<path d="M306.9,102.8 320.1,90.8 M310.1,103.7 323.3,91.8 M313.3,104.6 326.5,92.7 M316.6,105.6 329.7,93.7 M319.8,106.5 333,94.7 M323,107.5 336.2,95.7 M326.2,108.4 339.4,96.6 M329.4,109.4 342.6,97.6 M332.7,110.4 345.8,98.6 M335.9,111.4 349,99.6 M339.1,112.3 352.3,100.6 M342.3,113.3 355.5,101.6 M345.5,114.3 358.7,102.7 M348.7,115.3 361.9,103.7 M352,116.3 365.1,104.7 M355.2,117.3 368.4,105.8 M358.4,118.3 371.6,106.8 M361.6,119.3 374.8,107.8 M364.8,120.3 378,108.9 M368,121.3 381.2,110 M371.3,122.3 384.4,111 M374.5,123.4 387.7,112.1 M377.7,124.4 390.9,113.2 M380.9,125.4 394.1,114.3 M384.1,126.5 397.3,115.3 M387.4,127.5 400.5,116.4 M390.6,128.6 403.7,117.5 M393.8,129.6 407,118.6 M397,130.7 410.2,119.8 M400.2,131.7 413.4,120.9 M403.4,132.8 416.6,122 M406.7,133.9 419.8,123.1 M409.9,134.9 423.1,124.3 M413.1,136 426.3,125.4 M416.3,137.1 429.5,126.5 M419.5,138.2 432.7,127.7 M422.7,139.3 435.9,128.8 M426,140.4 439.1,130 M429.2,141.5 442.4,131.2 M432.4,142.6 445.6,132.3 M435.6,143.7 448.8,133.5 M438.8,144.8 452,134.7 M442.1,145.9 455.2,135.9 M445.3,147 458.5,137.1 M448.5,148.1 461.7,138.3 M451.7,149.3 464.9,139.5" stroke="#000" stroke-opacity="0.67" stroke-width="1.00" fill="none"/>
<path d="M320.1,90.8 336.2,95.7 352.3,100.6 368.4,105.8 384.4,111 400.5,116.4 416.6,122 432.7,127.7 448.8,133.5 464.9,139.5 M326.7,84.8 342.8,89.7 358.9,94.7 374.9,100 391,105.3 407.1,110.9 423.2,116.6 439.3,122.4 455.4,128.4 471.5,134.6" stroke="#000" stroke-opacity="0.69" stroke-width="0.81" fill="none"/>
<path d="M320.1,90.8 333.3,78.7 M323.3,91.8 336.5,79.7 M326.5,92.7 339.7,80.7 M329.7,93.7 342.9,81.7 M333,94.7 346.1,82.7 M336.2,95.7 349.4,83.7 M339.4,96.6 352.6,84.7 M342.6,97.6 355.8,85.7 M345.8,98.6 359,86.7 M349,99.6 362.2,87.8 M352.3,100.6 365.4,88.8 M355.5,101.6 368.7,89.9 M358.7,102.7 371.9,90.9 M361.9,103.7 375.1,92 M365.1,104.7 378.3,93.1 M368.4,105.8 381.5,94.1 M371.6,106.8 384.7,95.2 M374.8,107.8 388,96.3 M378,108.9 391.2,97.4 M381.2,110 394.4,98.5 M384.4,111 397.6,99.6 M387.7,112.1 400.8,100.7 M390.9,113.2 404.1,101.9 M394.1,114.3 407.3,103 M397.3,115.3 410.5,104.1 M400.5,116.4 413.7,105.3 M403.7,117.5 416.9,106.4 M407,118.6 420.1,107.6 M410.2,119.8 423.4,108.8 M413.4,120.9 426.6,109.9 M416.6,122 429.8,111.1 M419.8,123.1 433,112.3 M423.1,124.3 436.2,113.5 M426.3,125.4 439.5,114.7 M429.5,126.5 442.7,115.9 M432.7,127.7 445.9,117.1 M435.9,128.8 449.1,118.3 M439.1,130 452.3,119.6 M442.4,131.2 455.5,120.8 M445.6,132.3 458.8,122.1 M448.8,133.5 462,123.3 M452,134.7 465.2,124.6 M455.2,135.9 468.4,125.8 M458.5,137.1 471.6,127.1 M461.7,138.3 474.8,128.4 M464.9,139.5 478.1,129.7" stroke="#000" stroke-opacity="0.69" stroke-width="1.02" fill="none"/>
<path d="M333.3,78.7 349.4,83.7 365.4,88.8 381.5,94.1 397.6,99.6 413.7,105.3 429.8,111.1 445.9,117.1 462,123.3 478.1,129.7 M339.9,72.6 355.9,77.7 372,82.9 388.1,88.3 404.2,93.9 420.3,99.7 436.4,105.6 452.5,111.8 468.6,118.2 484.7,124.7" stroke="#000" stroke-opacity="0.72" stroke-width="0.82" fill="none"/>
<path d="M333.3,78.7 346.4,66.5 M336.5,79.7 349.7,67.5 M339.7,80.7 352.9,68.5 M342.9,81.7 356.1,69.5 M346.1,82.7 359.3,70.6 M349.4,83.7 362.5,71.6 M352.6,84.7 365.8,72.6 M355.8,85.7 369,73.7 M359,86.7 372.2,74.7 M362.2,87.8 375.4,75.8 M365.4,88.8 378.6,76.9 M368.7,89.9 381.8,78 M371.9,90.9 385.1,79.1 M375.1,92 388.3,80.2 M378.3,93.1 391.5,81.3 M381.5,94.1 394.7,82.4 M384.7,95.2 397.9,83.5 M388,96.3 401.1,84.7 M391.2,97.4 404.4,85.8 M394.4,98.5 407.6,86.9 M397.6,99.6 410.8,88.1 M400.8,100.7 414,89.3 M404.1,101.9 417.2,90.4 M407.3,103 420.5,91.6 M410.5,104.1 423.7,92.8 M413.7,105.3 426.9,94 M416.9,106.4 430.1,95.2 M420.1,107.6 433.3,96.5 M423.4,108.8 436.5,97.7 M426.6,109.9 439.8,98.9 M429.8,111.1 443,100.2 M433,112.3 446.2,101.4 M436.2,113.5 449.4,102.7 M439.5,114.7 452.6,103.9 M442.7,115.9 455.8,105.2 M445.9,117.1 459.1,106.5 M449.1,118.3 462.3,107.8 M452.3,119.6 465.5,109.1 M455.5,120.8 468.7,110.4 M458.8,122.1 471.9,111.7 M462,123.3 475.2,113 M465.2,124.6 478.4,114.4 M468.4,125.8 481.6,115.7 M471.6,127.1 484.8,117.1 M474.8,128.4 488,118.4 M478.1,129.7 491.2,119.8" stroke="#000" stroke-opacity="0.72" stroke-width="1.05" fill="none"/>
<path d="M346.4,66.5 362.5,71.6 378.6,76.9 394.7,82.4 410.8,88.1 426.9,94 443,100.2 459.1,106.5 475.2,113 491.2,119.8 M353,60.4 369.1,65.5 385.2,70.9 401.3,76.5 417.4,82.3 433.5,88.4 449.6,94.7 465.7,101.2 481.7,107.9 497.8,114.9" stroke="#000" stroke-opacity="0.75" stroke-width="0.83" fill="none"/>
<path d="M346.4,66.5 359.6,54.2 M349.7,67.5 362.8,55.2 M352.9,68.5 366.1,56.2 M356.1,69.5 369.3,57.3 M359.3,70.6 372.5,58.3 M362.5,71.6 375.7,59.4 M365.8,72.6 378.9,60.5 M369,73.7 382.1,61.5 M372.2,74.7 385.4,62.6 M375.4,75.8 388.6,63.7 M378.6,76.9 391.8,64.8 M381.8,78 395,66 M385.1,79.1 398.2,67.1 M388.3,80.2 401.5,68.2 M391.5,81.3 404.7,69.4 M394.7,82.4 407.9,70.6 M397.9,83.5 411.1,71.7 M401.1,84.7 414.3,72.9 M404.4,85.8 417.5,74.1 M407.6,86.9 420.8,75.3 M410.8,88.1 424,76.5 M414,89.3 427.2,77.7 M417.2,90.4 430.4,79 M420.5,91.6 433.6,80.2 M423.7,92.8 436.8,81.4 M426.9,94 440.1,82.7 M430.1,95.2 443.3,84 M433.3,96.5 446.5,85.2 M436.5,97.7 449.7,86.5 M439.8,98.9 452.9,87.8 M443,100.2 456.2,89.1 M446.2,101.4 459.4,90.5 M449.4,102.7 462.6,91.8 M452.6,103.9 465.8,93.1 M455.8,105.2 469,94.5 M459.1,106.5 472.2,95.8 M462.3,107.8 475.5,97.2 M465.5,109.1 478.7,98.6 M468.7,110.4 481.9,99.9 M471.9,111.7 485.1,101.3 M475.2,113 488.3,102.7 M478.4,114.4 491.6,104.2 M481.6,115.7 494.8,105.6 M484.8,117.1 498,107 M488,118.4 501.2,108.5 M491.2,119.8 504.4,109.9" stroke="#000" stroke-opacity="0.75" stroke-width="1.07" fill="none"/>
<path d="M359.6,54.2 375.7,59.4 391.8,64.8 407.9,70.6 424,76.5 440.1,82.7 456.2,89.1 472.2,95.8 488.3,102.7 504.4,109.9 M366.2,47.9 382.3,53.2 398.4,58.8 414.5,64.6 430.6,70.7 446.7,77 462.7,83.6 478.8,90.5 494.9,97.6 511,104.9 M372.8,41.7 388.9,47.1 405,52.7 421.1,58.6 437.2,64.8 453.2,71.3 469.3,78.1 485.4,85.1 501.5,92.4 517.6,100" stroke="#000" stroke-opacity="0.78" stroke-width="0.84" fill="none"/>
<path d="M359.6,54.2 372.8,41.7 M362.8,55.2 376,42.7 M366.1,56.2 379.2,43.8 M369.3,57.3 382.5,44.9 M372.5,58.3 385.7,46 M375.7,59.4 388.9,47.1 M378.9,60.5 392.1,48.2 M382.1,61.5 395.3,49.3 M385.4,62.6 398.5,50.4 M388.6,63.7 401.8,51.6 M391.8,64.8 405,52.7 M395,66 408.2,53.9 M398.2,67.1 411.4,55 M401.5,68.2 414.6,56.2 M404.7,69.4 417.8,57.4 M407.9,70.6 421.1,58.6 M411.1,71.7 424.3,59.9 M414.3,72.9 427.5,61.1 M417.5,74.1 430.7,62.3 M420.8,75.3 433.9,63.6 M424,76.5 437.2,64.8 M427.2,77.7 440.4,66.1 M430.4,79 443.6,67.4 M433.6,80.2 446.8,68.7 M436.8,81.4 450,70 M440.1,82.7 453.2,71.3 M443.3,84 456.5,72.6 M446.5,85.2 459.7,74 M449.7,86.5 462.9,75.3 M452.9,87.8 466.1,76.7 M456.2,89.1 469.3,78.1 M459.4,90.5 472.6,79.4 M462.6,91.8 475.8,80.8 M465.8,93.1 479,82.2 M469,94.5 482.2,83.7 M472.2,95.8 485.4,85.1 M475.5,97.2 488.6,86.5 M478.7,98.6 491.9,88 M481.9,99.9 495.1,89.4 M485.1,101.3 498.3,90.9 M488.3,102.7 501.5,92.4 M491.6,104.2 504.7,93.9 M494.8,105.6 507.9,95.4 M498,107 511.2,96.9 M501.2,108.5 514.4,98.4 M504.4,109.9 517.6,100" stroke="#000" stroke-opacity="0.78" stroke-width="1.09" fill="none"/>
<path d="M69.7,302.2 L69.7,42.8 M69.7,302.2 L214.5,379.8 M214.5,379.8 L517.6,342.9 M69.7,302.2 L63.3,298.8 M69.7,259 L63.3,255.5 M69.7,215.7 L63.3,212.3 M69.7,172.5 L63.3,169.1 M69.7,129.3 L63.3,125.8 M69.7,86 L63.3,82.6 M69.7,42.8 L63.3,39.4 M98.9,317.9 L91.3,318.8 M130.8,335 L123.2,335.9 M162.8,352.1 L155.1,353 M194.7,369.2 L187.1,370.1 M214.5,379.8 L220.6,383.1 M257.8,374.5 L263.9,377.8 M301.1,369.3 L307.2,372.5 M344.4,364 L350.5,367.2 M387.7,358.7 L393.8,362 M431,353.4 L437.1,356.7 M474.3,348.2 L480.4,351.4 M517.6,342.9 L523.7,346.2" stroke="#262626" stroke-width="1.0" stroke-opacity="0.55" fill="none"/>
<g fill="#0000ff" stroke="#eef1ff" stroke-opacity="0.65" stroke-width="1.0" paint-order="stroke">
<circle cx="69.6" cy="285.4" r="2.45" stroke="none"/>
<circle cx="85.5" cy="293.9" r="2.45" stroke="none"/>
<circle cx="101.6" cy="293.8" r="2.45" stroke="none"/>
<circle cx="117.7" cy="293.6" r="2.45"/>
<circle cx="133.6" cy="302.1" r="2.45" stroke="none"/>
<circle cx="149.6" cy="302" r="2.45" stroke="none"/>
<circle cx="165.8" cy="301.9" r="2.45" stroke="none"/>
<circle cx="181.8" cy="301.7" r="2.45"/>
<circle cx="197.7" cy="301.4" r="2.45"/>
<circle cx="213.7" cy="310.2" r="2.45" stroke="none"/>
<path d="M127.16,264.21 A2.45,2.45 0 1 1 130.79,261.58Z"/>
<circle cx="144.8" cy="262.7" r="2.45"/>
<path stroke="none" d="M157.88,268.94 A2.45,2.45 0 0 1 160.71,266.89Z"/>
<path d="M176.76,273.05 A2.45,2.45 0 1 1 179.14,271.33Z"/>
<circle cx="193" cy="270.9" r="2.45"/>
<path d="M223.14,280.16 A2.45,2.45 0 1 1 226.92,277.43Z"/>
<circle cx="241.1" cy="278.6" r="2.45"/>
<circle cx="257.3" cy="278.6" r="2.45"/>
<circle cx="156" cy="222.4" r="2.45" stroke="none"/>
<path d="M170.54,232.76 A2.45,2.45 0 1 1 174.32,230.03Z"/>
<circle cx="188.1" cy="231.3" r="2.45"/>
<path stroke="none" d="M201.38,238.24 A2.45,2.45 0 0 1 204.21,236.19Z"/>
<circle cx="220.3" cy="239.7" r="2.45"/>
<path d="M250.74,248.96 A2.45,2.45 0 1 1 254.52,246.23Z"/>
<circle cx="268.6" cy="248.1" r="2.45"/>
<circle cx="284.5" cy="247.8" r="2.45"/>
<circle cx="300.6" cy="256.4" r="2.45" stroke="none"/>
<circle cx="199.4" cy="191.7" r="2.45" stroke="none"/>
<path stroke="none" d="M212.19,198.07 A2.45,2.45 0 0 1 214.94,196.07Z"/>
<circle cx="231.5" cy="200.3" r="2.45"/>
<path stroke="none" d="M243.99,205.87 A2.45,2.45 0 0 1 246.74,203.87Z"/>
<circle cx="263.6" cy="208.3" r="2.45"/>
<path d="M293.94,218.26 A2.45,2.45 0 1 1 297.72,215.53Z"/>
<circle cx="311.8" cy="216.8" r="2.45"/>
<path stroke="none" d="M324.19,223.47 A2.45,2.45 0 0 1 326.94,221.47Z"/>
<circle cx="343.9" cy="225.2" r="2.45" stroke="none"/>
<path stroke="none" d="M240.08,158.34 A2.45,2.45 0 0 1 242.91,156.29Z"/>
<circle cx="258.8" cy="160" r="2.45"/>
<path d="M272.22,168.94 A2.45,2.45 0 0 1 276.18,166.06Z"/>
<circle cx="291" cy="169.2" r="2.45"/>
<path d="M304.47,177.73 A2.45,2.45 0 1 1 308.42,174.87Z"/>
<circle cx="323" cy="177" r="2.45"/>
<path stroke="none" d="M336.17,185.31 A2.45,2.45 0 0 1 340.06,182.50Z"/>
<circle cx="355" cy="185.6" r="2.45"/>
<path stroke="none" d="M367.75,192.96 A2.45,2.45 0 0 1 370.93,190.66Z"/>
<circle cx="387.3" cy="194.7" r="2.45" stroke="none"/>
<circle cx="285.9" cy="119.9" r="2.45" stroke="none"/>
<circle cx="318.2" cy="128.9" r="2.45"/>
<path stroke="none" d="M330.89,135.27 A2.45,2.45 0 0 1 333.64,133.27Z"/>
<circle cx="350.5" cy="137.3" r="2.45"/>
<path d="M364.17,146.93 A2.45,2.45 0 1 1 368.12,144.07Z"/>
<path d="M398.46,156.75 A2.45,2.45 0 1 1 400.84,155.03Z"/>
<circle cx="430.6" cy="163.2" r="2.45" stroke="none"/>
<circle cx="329.4" cy="80.2" r="2.45" stroke="none"/>
<path stroke="none" d="M342.39,86.37 A2.45,2.45 0 0 1 345.14,84.37Z"/>
<circle cx="361.4" cy="88.9" r="2.45"/>
<path d="M376.37,99.38 A2.45,2.45 0 1 1 379.92,96.81Z"/>
<path stroke="none" d="M389.51,103.66 A2.45,2.45 0 0 1 392.14,101.76Z"/>
<circle cx="409.8" cy="106" r="2.45"/>
<path d="M424.14,115.96 A2.45,2.45 0 1 1 427.92,113.23Z"/>
<path stroke="none" d="M438.21,120.56 A2.45,2.45 0 0 1 440.84,118.66Z"/>
<circle cx="457.7" cy="123.2" r="2.45"/>
<circle cx="473.9" cy="131.7" r="2.45" stroke="none"/>
<circle cx="372.8" cy="40.4" r="2.45" stroke="none"/>
<circle cx="404.9" cy="48.9" r="2.45" stroke="none"/>
<circle cx="420.9" cy="57.6" r="2.45" stroke="none"/>
<path d="M435.64,67.26 A2.45,2.45 0 1 1 439.42,64.53Z"/>
<circle cx="469.1" cy="74.6" r="2.45" stroke="none"/>
<circle cx="485.1" cy="82.9" r="2.45" stroke="none"/>
<path d="M500.10,93.44 A2.45,2.45 0 1 1 503.54,90.95Z"/>
<circle cx="517.3" cy="100.1" r="2.45" stroke="none"/>
</g>
<g fill="#262626">
<text x="59.3" y="302" text-anchor="end" font-size="12" >0.6</text>
<text x="59.3" y="258.8" text-anchor="end" font-size="12" >0.65</text>
<text x="59.3" y="215.5" text-anchor="end" font-size="12" >0.7</text>
<text x="59.3" y="172.3" text-anchor="end" font-size="12" >0.75</text>
<text x="59.3" y="129.1" text-anchor="end" font-size="12" >0.8</text>
<text x="59.3" y="85.8" text-anchor="end" font-size="12" >0.85</text>
<text x="59.3" y="42.6" text-anchor="end" font-size="12" >0.9</text>
<text x="87" y="332" text-anchor="end" font-size="12" >0.4</text>
<text x="118.9" y="349.1" text-anchor="end" font-size="12" >0.35</text>
<text x="150.8" y="366.2" text-anchor="end" font-size="12" >0.3</text>
<text x="182.8" y="383.3" text-anchor="end" font-size="12" >0.25</text>
<text x="224" y="398.1" text-anchor="start" font-size="12" >1</text>
<text x="267.3" y="392.8" text-anchor="start" font-size="12" >0.9</text>
<text x="310.6" y="387.5" text-anchor="start" font-size="12" >0.8</text>
<text x="353.9" y="382.2" text-anchor="start" font-size="12" >0.7</text>
<text x="397.2" y="377" text-anchor="start" font-size="12" >0.6</text>
<text x="440.5" y="371.7" text-anchor="start" font-size="12" >0.5</text>
<text x="483.8" y="366.4" text-anchor="start" font-size="12" >0.4</text>
<text x="527.1" y="361.2" text-anchor="start" font-size="12" >0.3</text>
<text x="328.4" y="414.2" text-anchor="start" font-size="21" >n</text>
<text x="121.5" y="406" font-size="21" font-family="'Liberation Serif', serif" font-style="italic" fill="#111">ξ</text>
<text transform="translate(18.4,181.7) rotate(-90)" font-size="21">p<tspan dy="9.7" font-size="16.5">r</tspan></text>
</g>
<rect x="144.3" y="53.6" width="151.5" height="28.8" fill="#fff" stroke="#4a4a4a" stroke-width="0.7"/>
<rect x="147.3" y="56.5" width="25.7" height="10.1" fill="#21b5ac" stroke="#000" stroke-width="0.5"/>
<circle cx="160" cy="75.3" r="2.3" fill="#0000ff"/>
<text x="175.3" y="65.6" font-size="10.25" fill="#111">Polynomial approximation</text>
<text x="175.3" y="78.9" font-size="10.25" fill="#111">Original Data</text>
</svg>
</body></html>
